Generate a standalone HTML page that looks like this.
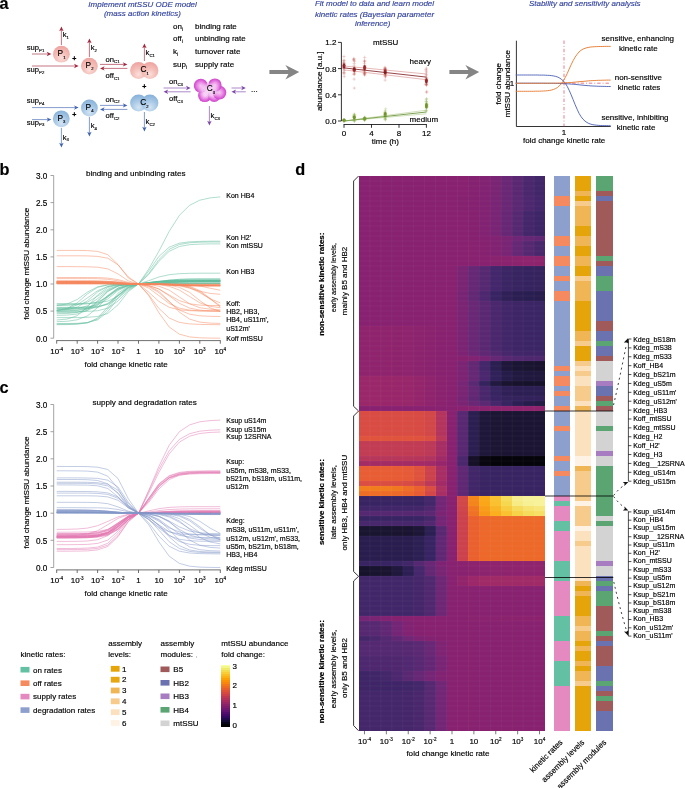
<!DOCTYPE html>
<html><head><meta charset="utf-8"><title>mtSSU kinetic model sensitivity</title>
<style>html,body{margin:0;padding:0;background:#fff}svg{display:block}svg text{font-family:"Liberation Sans",sans-serif;fill:#000;stroke:#000;stroke-width:.16px}</style>
</head><body>
<svg width="685" height="788" viewBox="0 0 685 788">
<rect width="685" height="788" fill="#fff"/>
<g shape-rendering="crispEdges">
<rect x="359" y="176" width="11.24" height="20" fill="#872170"/>
<rect x="369.94" y="176" width="11.24" height="20" fill="#872170"/>
<rect x="380.88" y="176" width="11.24" height="20" fill="#872170"/>
<rect x="391.82" y="176" width="11.24" height="20" fill="#872170"/>
<rect x="402.76" y="176" width="11.24" height="20" fill="#872170"/>
<rect x="413.71" y="176" width="11.24" height="20" fill="#872170"/>
<rect x="424.65" y="176" width="11.24" height="20" fill="#872170"/>
<rect x="435.59" y="176" width="11.24" height="20" fill="#872170"/>
<rect x="446.53" y="176" width="11.24" height="20" fill="#872170"/>
<rect x="457.47" y="176" width="11.24" height="20" fill="#872170"/>
<rect x="468.41" y="176" width="11.24" height="20" fill="#852171"/>
<rect x="479.35" y="176" width="11.24" height="20" fill="#822272"/>
<rect x="490.29" y="176" width="11.24" height="20" fill="#7a2474"/>
<rect x="501.24" y="176" width="11.24" height="20" fill="#6a2775"/>
<rect x="512.18" y="176" width="11.24" height="20" fill="#5a2873"/>
<rect x="523.12" y="176" width="11.24" height="20" fill="#4b276e"/>
<rect x="534.06" y="176" width="11.24" height="20" fill="#412669"/>
<rect x="359" y="196" width="11.24" height="15" fill="#872170"/>
<rect x="369.94" y="196" width="11.24" height="15" fill="#872170"/>
<rect x="380.88" y="196" width="11.24" height="15" fill="#872170"/>
<rect x="391.82" y="196" width="11.24" height="15" fill="#872170"/>
<rect x="402.76" y="196" width="11.24" height="15" fill="#872170"/>
<rect x="413.71" y="196" width="11.24" height="15" fill="#872170"/>
<rect x="424.65" y="196" width="11.24" height="15" fill="#872170"/>
<rect x="435.59" y="196" width="11.24" height="15" fill="#872170"/>
<rect x="446.53" y="196" width="11.24" height="15" fill="#872170"/>
<rect x="457.47" y="196" width="11.24" height="15" fill="#862170"/>
<rect x="468.41" y="196" width="11.24" height="15" fill="#852171"/>
<rect x="479.35" y="196" width="11.24" height="15" fill="#812272"/>
<rect x="490.29" y="196" width="11.24" height="15" fill="#792475"/>
<rect x="501.24" y="196" width="11.24" height="15" fill="#6a2775"/>
<rect x="512.18" y="196" width="11.24" height="15" fill="#5b2873"/>
<rect x="523.12" y="196" width="11.24" height="15" fill="#4d276f"/>
<rect x="534.06" y="196" width="11.24" height="15" fill="#43266b"/>
<rect x="359" y="211" width="11.24" height="25" fill="#872170"/>
<rect x="369.94" y="211" width="11.24" height="25" fill="#872170"/>
<rect x="380.88" y="211" width="11.24" height="25" fill="#872170"/>
<rect x="391.82" y="211" width="11.24" height="25" fill="#872170"/>
<rect x="402.76" y="211" width="11.24" height="25" fill="#872170"/>
<rect x="413.71" y="211" width="11.24" height="25" fill="#872170"/>
<rect x="424.65" y="211" width="11.24" height="25" fill="#872170"/>
<rect x="435.59" y="211" width="11.24" height="25" fill="#872170"/>
<rect x="446.53" y="211" width="11.24" height="25" fill="#872170"/>
<rect x="457.47" y="211" width="11.24" height="25" fill="#872170"/>
<rect x="468.41" y="211" width="11.24" height="25" fill="#862170"/>
<rect x="479.35" y="211" width="11.24" height="25" fill="#822272"/>
<rect x="490.29" y="211" width="11.24" height="25" fill="#792475"/>
<rect x="501.24" y="211" width="11.24" height="25" fill="#672775"/>
<rect x="512.18" y="211" width="11.24" height="25" fill="#562872"/>
<rect x="523.12" y="211" width="11.24" height="25" fill="#44266b"/>
<rect x="534.06" y="211" width="11.24" height="25" fill="#3e2567"/>
<rect x="359" y="236" width="11.24" height="5" fill="#872170"/>
<rect x="369.94" y="236" width="11.24" height="5" fill="#872170"/>
<rect x="380.88" y="236" width="11.24" height="5" fill="#872170"/>
<rect x="391.82" y="236" width="11.24" height="5" fill="#872170"/>
<rect x="402.76" y="236" width="11.24" height="5" fill="#872170"/>
<rect x="413.71" y="236" width="11.24" height="5" fill="#872170"/>
<rect x="424.65" y="236" width="11.24" height="5" fill="#872170"/>
<rect x="435.59" y="236" width="11.24" height="5" fill="#872170"/>
<rect x="446.53" y="236" width="11.24" height="5" fill="#872170"/>
<rect x="457.47" y="236" width="11.24" height="5" fill="#872170"/>
<rect x="468.41" y="236" width="11.24" height="5" fill="#862170"/>
<rect x="479.35" y="236" width="11.24" height="5" fill="#852171"/>
<rect x="490.29" y="236" width="11.24" height="5" fill="#812272"/>
<rect x="501.24" y="236" width="11.24" height="5" fill="#7a2474"/>
<rect x="512.18" y="236" width="11.24" height="5" fill="#6f2676"/>
<rect x="523.12" y="236" width="11.24" height="5" fill="#662775"/>
<rect x="534.06" y="236" width="11.24" height="5" fill="#612774"/>
<rect x="359" y="241" width="11.24" height="15" fill="#872170"/>
<rect x="369.94" y="241" width="11.24" height="15" fill="#872170"/>
<rect x="380.88" y="241" width="11.24" height="15" fill="#872170"/>
<rect x="391.82" y="241" width="11.24" height="15" fill="#872170"/>
<rect x="402.76" y="241" width="11.24" height="15" fill="#872170"/>
<rect x="413.71" y="241" width="11.24" height="15" fill="#872170"/>
<rect x="424.65" y="241" width="11.24" height="15" fill="#872170"/>
<rect x="435.59" y="241" width="11.24" height="15" fill="#872170"/>
<rect x="446.53" y="241" width="11.24" height="15" fill="#872170"/>
<rect x="457.47" y="241" width="11.24" height="15" fill="#872170"/>
<rect x="468.41" y="241" width="11.24" height="15" fill="#872170"/>
<rect x="479.35" y="241" width="11.24" height="15" fill="#862170"/>
<rect x="490.29" y="241" width="11.24" height="15" fill="#822272"/>
<rect x="501.24" y="241" width="11.24" height="15" fill="#792475"/>
<rect x="512.18" y="241" width="11.24" height="15" fill="#662775"/>
<rect x="523.12" y="241" width="11.24" height="15" fill="#572872"/>
<rect x="534.06" y="241" width="11.24" height="15" fill="#4a276d"/>
<rect x="359" y="256" width="11.24" height="10" fill="#872170"/>
<rect x="369.94" y="256" width="11.24" height="10" fill="#872170"/>
<rect x="380.88" y="256" width="11.24" height="10" fill="#872170"/>
<rect x="391.82" y="256" width="11.24" height="10" fill="#872170"/>
<rect x="402.76" y="256" width="11.24" height="10" fill="#872170"/>
<rect x="413.71" y="256" width="11.24" height="10" fill="#872170"/>
<rect x="424.65" y="256" width="11.24" height="10" fill="#872170"/>
<rect x="435.59" y="256" width="11.24" height="10" fill="#872170"/>
<rect x="446.53" y="256" width="11.24" height="10" fill="#872170"/>
<rect x="457.47" y="256" width="11.24" height="10" fill="#872170"/>
<rect x="468.41" y="256" width="11.24" height="10" fill="#872170"/>
<rect x="479.35" y="256" width="11.24" height="10" fill="#882170"/>
<rect x="490.29" y="256" width="11.24" height="10" fill="#89226f"/>
<rect x="501.24" y="256" width="11.24" height="10" fill="#8b226f"/>
<rect x="512.18" y="256" width="11.24" height="10" fill="#8d236e"/>
<rect x="523.12" y="256" width="11.24" height="10" fill="#8e236e"/>
<rect x="534.06" y="256" width="11.24" height="10" fill="#8e236d"/>
<rect x="359" y="266" width="11.24" height="25" fill="#872170"/>
<rect x="369.94" y="266" width="11.24" height="25" fill="#872170"/>
<rect x="380.88" y="266" width="11.24" height="25" fill="#872170"/>
<rect x="391.82" y="266" width="11.24" height="25" fill="#872170"/>
<rect x="402.76" y="266" width="11.24" height="25" fill="#872170"/>
<rect x="413.71" y="266" width="11.24" height="25" fill="#872170"/>
<rect x="424.65" y="266" width="11.24" height="25" fill="#872170"/>
<rect x="435.59" y="266" width="11.24" height="25" fill="#872170"/>
<rect x="446.53" y="266" width="11.24" height="25" fill="#872170"/>
<rect x="457.47" y="266" width="11.24" height="25" fill="#7a2474"/>
<rect x="468.41" y="266" width="11.24" height="25" fill="#662775"/>
<rect x="479.35" y="266" width="11.24" height="25" fill="#562872"/>
<rect x="490.29" y="266" width="11.24" height="25" fill="#43266b"/>
<rect x="501.24" y="266" width="11.24" height="25" fill="#3b2564"/>
<rect x="512.18" y="266" width="11.24" height="25" fill="#372461"/>
<rect x="523.12" y="266" width="11.24" height="25" fill="#35235f"/>
<rect x="534.06" y="266" width="11.24" height="25" fill="#35235e"/>
<rect x="359" y="291" width="11.24" height="10" fill="#872170"/>
<rect x="369.94" y="291" width="11.24" height="10" fill="#872170"/>
<rect x="380.88" y="291" width="11.24" height="10" fill="#872170"/>
<rect x="391.82" y="291" width="11.24" height="10" fill="#872170"/>
<rect x="402.76" y="291" width="11.24" height="10" fill="#872170"/>
<rect x="413.71" y="291" width="11.24" height="10" fill="#872170"/>
<rect x="424.65" y="291" width="11.24" height="10" fill="#872170"/>
<rect x="435.59" y="291" width="11.24" height="10" fill="#872170"/>
<rect x="446.53" y="291" width="11.24" height="10" fill="#872170"/>
<rect x="457.47" y="291" width="11.24" height="10" fill="#782475"/>
<rect x="468.41" y="291" width="11.24" height="10" fill="#632774"/>
<rect x="479.35" y="291" width="11.24" height="10" fill="#4d276f"/>
<rect x="490.29" y="291" width="11.24" height="10" fill="#392463"/>
<rect x="501.24" y="291" width="11.24" height="10" fill="#302058"/>
<rect x="512.18" y="291" width="11.24" height="10" fill="#2b1e52"/>
<rect x="523.12" y="291" width="11.24" height="10" fill="#291e50"/>
<rect x="534.06" y="291" width="11.24" height="10" fill="#291d4f"/>
<rect x="359" y="301" width="11.24" height="25" fill="#872170"/>
<rect x="369.94" y="301" width="11.24" height="25" fill="#872170"/>
<rect x="380.88" y="301" width="11.24" height="25" fill="#872170"/>
<rect x="391.82" y="301" width="11.24" height="25" fill="#872170"/>
<rect x="402.76" y="301" width="11.24" height="25" fill="#872170"/>
<rect x="413.71" y="301" width="11.24" height="25" fill="#872170"/>
<rect x="424.65" y="301" width="11.24" height="25" fill="#872170"/>
<rect x="435.59" y="301" width="11.24" height="25" fill="#872170"/>
<rect x="446.53" y="301" width="11.24" height="25" fill="#872170"/>
<rect x="457.47" y="301" width="11.24" height="25" fill="#7b2474"/>
<rect x="468.41" y="301" width="11.24" height="25" fill="#692775"/>
<rect x="479.35" y="301" width="11.24" height="25" fill="#5a2873"/>
<rect x="490.29" y="301" width="11.24" height="25" fill="#4b276e"/>
<rect x="501.24" y="301" width="11.24" height="25" fill="#412669"/>
<rect x="512.18" y="301" width="11.24" height="25" fill="#3e2566"/>
<rect x="523.12" y="301" width="11.24" height="25" fill="#3c2565"/>
<rect x="534.06" y="301" width="11.24" height="25" fill="#3b2565"/>
<rect x="359" y="326" width="11.24" height="25" fill="#8f236d"/>
<rect x="369.94" y="326" width="11.24" height="25" fill="#8f236d"/>
<rect x="380.88" y="326" width="11.24" height="25" fill="#8f236d"/>
<rect x="391.82" y="326" width="11.24" height="25" fill="#8e236d"/>
<rect x="402.76" y="326" width="11.24" height="25" fill="#8e236e"/>
<rect x="413.71" y="326" width="11.24" height="25" fill="#8c236e"/>
<rect x="424.65" y="326" width="11.24" height="25" fill="#8a226f"/>
<rect x="435.59" y="326" width="11.24" height="25" fill="#882170"/>
<rect x="446.53" y="326" width="11.24" height="25" fill="#872170"/>
<rect x="457.47" y="326" width="11.24" height="25" fill="#7b2474"/>
<rect x="468.41" y="326" width="11.24" height="25" fill="#692775"/>
<rect x="479.35" y="326" width="11.24" height="25" fill="#5a2873"/>
<rect x="490.29" y="326" width="11.24" height="25" fill="#4b276e"/>
<rect x="501.24" y="326" width="11.24" height="25" fill="#412669"/>
<rect x="512.18" y="326" width="11.24" height="25" fill="#3e2566"/>
<rect x="523.12" y="326" width="11.24" height="25" fill="#3c2565"/>
<rect x="534.06" y="326" width="11.24" height="25" fill="#3b2565"/>
<rect x="359" y="351" width="11.24" height="5" fill="#8f236d"/>
<rect x="369.94" y="351" width="11.24" height="5" fill="#8f236d"/>
<rect x="380.88" y="351" width="11.24" height="5" fill="#8f236d"/>
<rect x="391.82" y="351" width="11.24" height="5" fill="#8e236d"/>
<rect x="402.76" y="351" width="11.24" height="5" fill="#8e236e"/>
<rect x="413.71" y="351" width="11.24" height="5" fill="#8c236e"/>
<rect x="424.65" y="351" width="11.24" height="5" fill="#8a226f"/>
<rect x="435.59" y="351" width="11.24" height="5" fill="#882170"/>
<rect x="446.53" y="351" width="11.24" height="5" fill="#872170"/>
<rect x="457.47" y="351" width="11.24" height="5" fill="#7e2373"/>
<rect x="468.41" y="351" width="11.24" height="5" fill="#6f2676"/>
<rect x="479.35" y="351" width="11.24" height="5" fill="#602774"/>
<rect x="490.29" y="351" width="11.24" height="5" fill="#532871"/>
<rect x="501.24" y="351" width="11.24" height="5" fill="#48276d"/>
<rect x="512.18" y="351" width="11.24" height="5" fill="#42266a"/>
<rect x="523.12" y="351" width="11.24" height="5" fill="#402669"/>
<rect x="534.06" y="351" width="11.24" height="5" fill="#402668"/>
<rect x="359" y="356" width="11.24" height="5" fill="#8f236d"/>
<rect x="369.94" y="356" width="11.24" height="5" fill="#8f236d"/>
<rect x="380.88" y="356" width="11.24" height="5" fill="#8f236d"/>
<rect x="391.82" y="356" width="11.24" height="5" fill="#8e236d"/>
<rect x="402.76" y="356" width="11.24" height="5" fill="#8e236e"/>
<rect x="413.71" y="356" width="11.24" height="5" fill="#8c236e"/>
<rect x="424.65" y="356" width="11.24" height="5" fill="#8a226f"/>
<rect x="435.59" y="356" width="11.24" height="5" fill="#882170"/>
<rect x="446.53" y="356" width="11.24" height="5" fill="#872170"/>
<rect x="457.47" y="356" width="11.24" height="5" fill="#862170"/>
<rect x="468.41" y="356" width="11.24" height="5" fill="#822272"/>
<rect x="479.35" y="356" width="11.24" height="5" fill="#772475"/>
<rect x="490.29" y="356" width="11.24" height="5" fill="#662775"/>
<rect x="501.24" y="356" width="11.24" height="5" fill="#592873"/>
<rect x="512.18" y="356" width="11.24" height="5" fill="#522871"/>
<rect x="523.12" y="356" width="11.24" height="5" fill="#4f276f"/>
<rect x="534.06" y="356" width="11.24" height="5" fill="#4e276f"/>
<rect x="359" y="361" width="11.24" height="10" fill="#8f236d"/>
<rect x="369.94" y="361" width="11.24" height="10" fill="#8f236d"/>
<rect x="380.88" y="361" width="11.24" height="10" fill="#8f236d"/>
<rect x="391.82" y="361" width="11.24" height="10" fill="#8e236d"/>
<rect x="402.76" y="361" width="11.24" height="10" fill="#8e236e"/>
<rect x="413.71" y="361" width="11.24" height="10" fill="#8c236e"/>
<rect x="424.65" y="361" width="11.24" height="10" fill="#8a226f"/>
<rect x="435.59" y="361" width="11.24" height="10" fill="#882170"/>
<rect x="446.53" y="361" width="11.24" height="10" fill="#872170"/>
<rect x="457.47" y="361" width="11.24" height="10" fill="#7b2474"/>
<rect x="468.41" y="361" width="11.24" height="10" fill="#642774"/>
<rect x="479.35" y="361" width="11.24" height="10" fill="#44266b"/>
<rect x="490.29" y="361" width="11.24" height="10" fill="#2b1e51"/>
<rect x="501.24" y="361" width="11.24" height="10" fill="#1f173b"/>
<rect x="512.18" y="361" width="11.24" height="10" fill="#1a1532"/>
<rect x="523.12" y="361" width="11.24" height="10" fill="#191430"/>
<rect x="534.06" y="361" width="11.24" height="10" fill="#19132f"/>
<rect x="359" y="371" width="11.24" height="5" fill="#8f236d"/>
<rect x="369.94" y="371" width="11.24" height="5" fill="#8f236d"/>
<rect x="380.88" y="371" width="11.24" height="5" fill="#8f236d"/>
<rect x="391.82" y="371" width="11.24" height="5" fill="#8e236d"/>
<rect x="402.76" y="371" width="11.24" height="5" fill="#8e236e"/>
<rect x="413.71" y="371" width="11.24" height="5" fill="#8c236e"/>
<rect x="424.65" y="371" width="11.24" height="5" fill="#8a226f"/>
<rect x="435.59" y="371" width="11.24" height="5" fill="#882170"/>
<rect x="446.53" y="371" width="11.24" height="5" fill="#872170"/>
<rect x="457.47" y="371" width="11.24" height="5" fill="#7c2374"/>
<rect x="468.41" y="371" width="11.24" height="5" fill="#662775"/>
<rect x="479.35" y="371" width="11.24" height="5" fill="#4a276e"/>
<rect x="490.29" y="371" width="11.24" height="5" fill="#31215a"/>
<rect x="501.24" y="371" width="11.24" height="5" fill="#261c4a"/>
<rect x="512.18" y="371" width="11.24" height="5" fill="#221941"/>
<rect x="523.12" y="371" width="11.24" height="5" fill="#20183e"/>
<rect x="534.06" y="371" width="11.24" height="5" fill="#20183d"/>
<rect x="359" y="376" width="11.24" height="5" fill="#99276a"/>
<rect x="369.94" y="376" width="11.24" height="5" fill="#99276a"/>
<rect x="380.88" y="376" width="11.24" height="5" fill="#99266a"/>
<rect x="391.82" y="376" width="11.24" height="5" fill="#98266a"/>
<rect x="402.76" y="376" width="11.24" height="5" fill="#97266a"/>
<rect x="413.71" y="376" width="11.24" height="5" fill="#94256c"/>
<rect x="424.65" y="376" width="11.24" height="5" fill="#8f236d"/>
<rect x="435.59" y="376" width="11.24" height="5" fill="#8a226f"/>
<rect x="446.53" y="376" width="11.24" height="5" fill="#872170"/>
<rect x="457.47" y="376" width="11.24" height="5" fill="#7c2374"/>
<rect x="468.41" y="376" width="11.24" height="5" fill="#662775"/>
<rect x="479.35" y="376" width="11.24" height="5" fill="#4a276e"/>
<rect x="490.29" y="376" width="11.24" height="5" fill="#31215a"/>
<rect x="501.24" y="376" width="11.24" height="5" fill="#261c4a"/>
<rect x="512.18" y="376" width="11.24" height="5" fill="#221941"/>
<rect x="523.12" y="376" width="11.24" height="5" fill="#20183e"/>
<rect x="534.06" y="376" width="11.24" height="5" fill="#20183d"/>
<rect x="359" y="381" width="11.24" height="5" fill="#99276a"/>
<rect x="369.94" y="381" width="11.24" height="5" fill="#99276a"/>
<rect x="380.88" y="381" width="11.24" height="5" fill="#99266a"/>
<rect x="391.82" y="381" width="11.24" height="5" fill="#98266a"/>
<rect x="402.76" y="381" width="11.24" height="5" fill="#97266a"/>
<rect x="413.71" y="381" width="11.24" height="5" fill="#94256c"/>
<rect x="424.65" y="381" width="11.24" height="5" fill="#8f236d"/>
<rect x="435.59" y="381" width="11.24" height="5" fill="#8a226f"/>
<rect x="446.53" y="381" width="11.24" height="5" fill="#872170"/>
<rect x="457.47" y="381" width="11.24" height="5" fill="#772575"/>
<rect x="468.41" y="381" width="11.24" height="5" fill="#5b2873"/>
<rect x="479.35" y="381" width="11.24" height="5" fill="#35235e"/>
<rect x="490.29" y="381" width="11.24" height="5" fill="#21193f"/>
<rect x="501.24" y="381" width="11.24" height="5" fill="#1a1430"/>
<rect x="512.18" y="381" width="11.24" height="5" fill="#18122d"/>
<rect x="523.12" y="381" width="11.24" height="5" fill="#17122c"/>
<rect x="534.06" y="381" width="11.24" height="5" fill="#17122c"/>
<rect x="359" y="386" width="11.24" height="10" fill="#99276a"/>
<rect x="369.94" y="386" width="11.24" height="10" fill="#99276a"/>
<rect x="380.88" y="386" width="11.24" height="10" fill="#99266a"/>
<rect x="391.82" y="386" width="11.24" height="10" fill="#98266a"/>
<rect x="402.76" y="386" width="11.24" height="10" fill="#97266a"/>
<rect x="413.71" y="386" width="11.24" height="10" fill="#94256c"/>
<rect x="424.65" y="386" width="11.24" height="10" fill="#8f236d"/>
<rect x="435.59" y="386" width="11.24" height="10" fill="#8a226f"/>
<rect x="446.53" y="386" width="11.24" height="10" fill="#872170"/>
<rect x="457.47" y="386" width="11.24" height="10" fill="#7a2474"/>
<rect x="468.41" y="386" width="11.24" height="10" fill="#632774"/>
<rect x="479.35" y="386" width="11.24" height="10" fill="#4a276d"/>
<rect x="490.29" y="386" width="11.24" height="10" fill="#372461"/>
<rect x="501.24" y="386" width="11.24" height="10" fill="#302058"/>
<rect x="512.18" y="386" width="11.24" height="10" fill="#2d1f54"/>
<rect x="523.12" y="386" width="11.24" height="10" fill="#2c1f53"/>
<rect x="534.06" y="386" width="11.24" height="10" fill="#2c1f53"/>
<rect x="359" y="396" width="11.24" height="5" fill="#99276a"/>
<rect x="369.94" y="396" width="11.24" height="5" fill="#99276a"/>
<rect x="380.88" y="396" width="11.24" height="5" fill="#99266a"/>
<rect x="391.82" y="396" width="11.24" height="5" fill="#98266a"/>
<rect x="402.76" y="396" width="11.24" height="5" fill="#97266a"/>
<rect x="413.71" y="396" width="11.24" height="5" fill="#94256c"/>
<rect x="424.65" y="396" width="11.24" height="5" fill="#8f236d"/>
<rect x="435.59" y="396" width="11.24" height="5" fill="#8a226f"/>
<rect x="446.53" y="396" width="11.24" height="5" fill="#872170"/>
<rect x="457.47" y="396" width="11.24" height="5" fill="#772475"/>
<rect x="468.41" y="396" width="11.24" height="5" fill="#602774"/>
<rect x="479.35" y="396" width="11.24" height="5" fill="#49276d"/>
<rect x="490.29" y="396" width="11.24" height="5" fill="#3a2464"/>
<rect x="501.24" y="396" width="11.24" height="5" fill="#35235e"/>
<rect x="512.18" y="396" width="11.24" height="5" fill="#33225c"/>
<rect x="523.12" y="396" width="11.24" height="5" fill="#32215b"/>
<rect x="534.06" y="396" width="11.24" height="5" fill="#32215a"/>
<rect x="359" y="401" width="11.24" height="5" fill="#99276a"/>
<rect x="369.94" y="401" width="11.24" height="5" fill="#99276a"/>
<rect x="380.88" y="401" width="11.24" height="5" fill="#99266a"/>
<rect x="391.82" y="401" width="11.24" height="5" fill="#98266a"/>
<rect x="402.76" y="401" width="11.24" height="5" fill="#97266a"/>
<rect x="413.71" y="401" width="11.24" height="5" fill="#94256c"/>
<rect x="424.65" y="401" width="11.24" height="5" fill="#8f236d"/>
<rect x="435.59" y="401" width="11.24" height="5" fill="#8a226f"/>
<rect x="446.53" y="401" width="11.24" height="5" fill="#872170"/>
<rect x="457.47" y="401" width="11.24" height="5" fill="#7c2474"/>
<rect x="468.41" y="401" width="11.24" height="5" fill="#6b2675"/>
<rect x="479.35" y="401" width="11.24" height="5" fill="#5b2873"/>
<rect x="490.29" y="401" width="11.24" height="5" fill="#47276c"/>
<rect x="501.24" y="401" width="11.24" height="5" fill="#372461"/>
<rect x="512.18" y="401" width="11.24" height="5" fill="#2d1f55"/>
<rect x="523.12" y="401" width="11.24" height="5" fill="#271d4c"/>
<rect x="534.06" y="401" width="11.24" height="5" fill="#241b46"/>
<rect x="359" y="406" width="11.24" height="5" fill="#872170"/>
<rect x="369.94" y="406" width="11.24" height="5" fill="#872170"/>
<rect x="380.88" y="406" width="11.24" height="5" fill="#872170"/>
<rect x="391.82" y="406" width="11.24" height="5" fill="#872170"/>
<rect x="402.76" y="406" width="11.24" height="5" fill="#872170"/>
<rect x="413.71" y="406" width="11.24" height="5" fill="#872170"/>
<rect x="424.65" y="406" width="11.24" height="5" fill="#872170"/>
<rect x="435.59" y="406" width="11.24" height="5" fill="#872170"/>
<rect x="446.53" y="406" width="11.24" height="5" fill="#872170"/>
<rect x="457.47" y="406" width="11.24" height="5" fill="#882170"/>
<rect x="468.41" y="406" width="11.24" height="5" fill="#89226f"/>
<rect x="479.35" y="406" width="11.24" height="5" fill="#8b226f"/>
<rect x="490.29" y="406" width="11.24" height="5" fill="#8d236e"/>
<rect x="501.24" y="406" width="11.24" height="5" fill="#8e236e"/>
<rect x="512.18" y="406" width="11.24" height="5" fill="#8e236d"/>
<rect x="523.12" y="406" width="11.24" height="5" fill="#8f236d"/>
<rect x="534.06" y="406" width="11.24" height="5" fill="#8f236d"/>
<rect x="359" y="411" width="11.24" height="25" fill="#d94c44"/>
<rect x="369.94" y="411" width="11.24" height="25" fill="#d94c44"/>
<rect x="380.88" y="411" width="11.24" height="25" fill="#d94c44"/>
<rect x="391.82" y="411" width="11.24" height="25" fill="#d94c44"/>
<rect x="402.76" y="411" width="11.24" height="25" fill="#d84c44"/>
<rect x="413.71" y="411" width="11.24" height="25" fill="#d84b44"/>
<rect x="424.65" y="411" width="11.24" height="25" fill="#d24748"/>
<rect x="435.59" y="411" width="11.24" height="25" fill="#b3355e"/>
<rect x="446.53" y="411" width="11.24" height="25" fill="#872170"/>
<rect x="457.47" y="411" width="11.24" height="25" fill="#582872"/>
<rect x="468.41" y="411" width="11.24" height="25" fill="#2b1f52"/>
<rect x="479.35" y="411" width="11.24" height="25" fill="#1f173a"/>
<rect x="490.29" y="411" width="11.24" height="25" fill="#1c1534"/>
<rect x="501.24" y="411" width="11.24" height="25" fill="#1b1533"/>
<rect x="512.18" y="411" width="11.24" height="25" fill="#1b1533"/>
<rect x="523.12" y="411" width="11.24" height="25" fill="#1b1533"/>
<rect x="534.06" y="411" width="11.24" height="25" fill="#1b1533"/>
<rect x="359" y="436" width="11.24" height="5" fill="#e0543d"/>
<rect x="369.94" y="436" width="11.24" height="5" fill="#e0543d"/>
<rect x="380.88" y="436" width="11.24" height="5" fill="#e0543d"/>
<rect x="391.82" y="436" width="11.24" height="5" fill="#e0543d"/>
<rect x="402.76" y="436" width="11.24" height="5" fill="#e0533d"/>
<rect x="413.71" y="436" width="11.24" height="5" fill="#df533e"/>
<rect x="424.65" y="436" width="11.24" height="5" fill="#db4e42"/>
<rect x="435.59" y="436" width="11.24" height="5" fill="#ba3859"/>
<rect x="446.53" y="436" width="11.24" height="5" fill="#872170"/>
<rect x="457.47" y="436" width="11.24" height="5" fill="#582872"/>
<rect x="468.41" y="436" width="11.24" height="5" fill="#2b1f52"/>
<rect x="479.35" y="436" width="11.24" height="5" fill="#1f173a"/>
<rect x="490.29" y="436" width="11.24" height="5" fill="#1c1534"/>
<rect x="501.24" y="436" width="11.24" height="5" fill="#1b1533"/>
<rect x="512.18" y="436" width="11.24" height="5" fill="#1b1533"/>
<rect x="523.12" y="436" width="11.24" height="5" fill="#1b1533"/>
<rect x="534.06" y="436" width="11.24" height="5" fill="#1b1533"/>
<rect x="359" y="441" width="11.24" height="15" fill="#c23c53"/>
<rect x="369.94" y="441" width="11.24" height="15" fill="#c23c53"/>
<rect x="380.88" y="441" width="11.24" height="15" fill="#c23c53"/>
<rect x="391.82" y="441" width="11.24" height="15" fill="#c23c53"/>
<rect x="402.76" y="441" width="11.24" height="15" fill="#c13c53"/>
<rect x="413.71" y="441" width="11.24" height="15" fill="#c13b54"/>
<rect x="424.65" y="441" width="11.24" height="15" fill="#bc3957"/>
<rect x="435.59" y="441" width="11.24" height="15" fill="#a72e64"/>
<rect x="446.53" y="441" width="11.24" height="15" fill="#872170"/>
<rect x="457.47" y="441" width="11.24" height="15" fill="#582872"/>
<rect x="468.41" y="441" width="11.24" height="15" fill="#2b1f52"/>
<rect x="479.35" y="441" width="11.24" height="15" fill="#1f173a"/>
<rect x="490.29" y="441" width="11.24" height="15" fill="#1c1534"/>
<rect x="501.24" y="441" width="11.24" height="15" fill="#1b1533"/>
<rect x="512.18" y="441" width="11.24" height="15" fill="#1b1533"/>
<rect x="523.12" y="441" width="11.24" height="15" fill="#1b1533"/>
<rect x="534.06" y="441" width="11.24" height="15" fill="#1b1533"/>
<rect x="359" y="456" width="11.24" height="5" fill="#b7375b"/>
<rect x="369.94" y="456" width="11.24" height="5" fill="#b7375b"/>
<rect x="380.88" y="456" width="11.24" height="5" fill="#b7375b"/>
<rect x="391.82" y="456" width="11.24" height="5" fill="#b7375b"/>
<rect x="402.76" y="456" width="11.24" height="5" fill="#b7375b"/>
<rect x="413.71" y="456" width="11.24" height="5" fill="#b6365b"/>
<rect x="424.65" y="456" width="11.24" height="5" fill="#b1345f"/>
<rect x="435.59" y="456" width="11.24" height="5" fill="#a02967"/>
<rect x="446.53" y="456" width="11.24" height="5" fill="#872170"/>
<rect x="457.47" y="456" width="11.24" height="5" fill="#4b276e"/>
<rect x="468.41" y="456" width="11.24" height="5" fill="#161129"/>
<rect x="479.35" y="456" width="11.24" height="5" fill="#090610"/>
<rect x="490.29" y="456" width="11.24" height="5" fill="#06040b"/>
<rect x="501.24" y="456" width="11.24" height="5" fill="#05040b"/>
<rect x="512.18" y="456" width="11.24" height="5" fill="#05040b"/>
<rect x="523.12" y="456" width="11.24" height="5" fill="#05040b"/>
<rect x="534.06" y="456" width="11.24" height="5" fill="#05040b"/>
<rect x="359" y="461" width="11.24" height="5" fill="#a42c65"/>
<rect x="369.94" y="461" width="11.24" height="5" fill="#a42c65"/>
<rect x="380.88" y="461" width="11.24" height="5" fill="#a42c65"/>
<rect x="391.82" y="461" width="11.24" height="5" fill="#a42c65"/>
<rect x="402.76" y="461" width="11.24" height="5" fill="#a42c65"/>
<rect x="413.71" y="461" width="11.24" height="5" fill="#a42b66"/>
<rect x="424.65" y="461" width="11.24" height="5" fill="#a12a67"/>
<rect x="435.59" y="461" width="11.24" height="5" fill="#96256b"/>
<rect x="446.53" y="461" width="11.24" height="5" fill="#872170"/>
<rect x="457.47" y="461" width="11.24" height="5" fill="#4b276e"/>
<rect x="468.41" y="461" width="11.24" height="5" fill="#161129"/>
<rect x="479.35" y="461" width="11.24" height="5" fill="#090610"/>
<rect x="490.29" y="461" width="11.24" height="5" fill="#06040b"/>
<rect x="501.24" y="461" width="11.24" height="5" fill="#05040b"/>
<rect x="512.18" y="461" width="11.24" height="5" fill="#05040b"/>
<rect x="523.12" y="461" width="11.24" height="5" fill="#05040b"/>
<rect x="534.06" y="461" width="11.24" height="5" fill="#05040b"/>
<rect x="359" y="466" width="11.24" height="15" fill="#e85d34"/>
<rect x="369.94" y="466" width="11.24" height="15" fill="#e85d34"/>
<rect x="380.88" y="466" width="11.24" height="15" fill="#e85d34"/>
<rect x="391.82" y="466" width="11.24" height="15" fill="#e75c35"/>
<rect x="402.76" y="466" width="11.24" height="15" fill="#e65a38"/>
<rect x="413.71" y="466" width="11.24" height="15" fill="#df533e"/>
<rect x="424.65" y="466" width="11.24" height="15" fill="#cb424d"/>
<rect x="435.59" y="466" width="11.24" height="15" fill="#a72d64"/>
<rect x="446.53" y="466" width="11.24" height="15" fill="#872170"/>
<rect x="457.47" y="466" width="11.24" height="15" fill="#5f2774"/>
<rect x="468.41" y="466" width="11.24" height="15" fill="#412669"/>
<rect x="479.35" y="466" width="11.24" height="15" fill="#3a2463"/>
<rect x="490.29" y="466" width="11.24" height="15" fill="#382462"/>
<rect x="501.24" y="466" width="11.24" height="15" fill="#382462"/>
<rect x="512.18" y="466" width="11.24" height="15" fill="#382462"/>
<rect x="523.12" y="466" width="11.24" height="15" fill="#382462"/>
<rect x="534.06" y="466" width="11.24" height="15" fill="#382462"/>
<rect x="359" y="481" width="11.24" height="5" fill="#db4e42"/>
<rect x="369.94" y="481" width="11.24" height="5" fill="#db4e42"/>
<rect x="380.88" y="481" width="11.24" height="5" fill="#da4e42"/>
<rect x="391.82" y="481" width="11.24" height="5" fill="#d94d43"/>
<rect x="402.76" y="481" width="11.24" height="5" fill="#d74b45"/>
<rect x="413.71" y="481" width="11.24" height="5" fill="#cf454a"/>
<rect x="424.65" y="481" width="11.24" height="5" fill="#bc3958"/>
<rect x="435.59" y="481" width="11.24" height="5" fill="#a12a67"/>
<rect x="446.53" y="481" width="11.24" height="5" fill="#872170"/>
<rect x="457.47" y="481" width="11.24" height="5" fill="#5f2774"/>
<rect x="468.41" y="481" width="11.24" height="5" fill="#412669"/>
<rect x="479.35" y="481" width="11.24" height="5" fill="#3a2463"/>
<rect x="490.29" y="481" width="11.24" height="5" fill="#382462"/>
<rect x="501.24" y="481" width="11.24" height="5" fill="#382462"/>
<rect x="512.18" y="481" width="11.24" height="5" fill="#382462"/>
<rect x="523.12" y="481" width="11.24" height="5" fill="#382462"/>
<rect x="534.06" y="481" width="11.24" height="5" fill="#382462"/>
<rect x="359" y="486" width="11.24" height="5" fill="#f37e1e"/>
<rect x="369.94" y="486" width="11.24" height="5" fill="#f27d1e"/>
<rect x="380.88" y="486" width="11.24" height="5" fill="#f27c1f"/>
<rect x="391.82" y="486" width="11.24" height="5" fill="#f17821"/>
<rect x="402.76" y="486" width="11.24" height="5" fill="#ee6d27"/>
<rect x="413.71" y="486" width="11.24" height="5" fill="#ea602f"/>
<rect x="424.65" y="486" width="11.24" height="5" fill="#d94d43"/>
<rect x="435.59" y="486" width="11.24" height="5" fill="#ac3162"/>
<rect x="446.53" y="486" width="11.24" height="5" fill="#872170"/>
<rect x="457.47" y="486" width="11.24" height="5" fill="#5f2774"/>
<rect x="468.41" y="486" width="11.24" height="5" fill="#412669"/>
<rect x="479.35" y="486" width="11.24" height="5" fill="#3a2463"/>
<rect x="490.29" y="486" width="11.24" height="5" fill="#382462"/>
<rect x="501.24" y="486" width="11.24" height="5" fill="#382462"/>
<rect x="512.18" y="486" width="11.24" height="5" fill="#382462"/>
<rect x="523.12" y="486" width="11.24" height="5" fill="#382462"/>
<rect x="534.06" y="486" width="11.24" height="5" fill="#382462"/>
<rect x="359" y="491" width="11.24" height="5" fill="#ee6e26"/>
<rect x="369.94" y="491" width="11.24" height="5" fill="#ee6e27"/>
<rect x="380.88" y="491" width="11.24" height="5" fill="#ee6c27"/>
<rect x="391.82" y="491" width="11.24" height="5" fill="#ed6929"/>
<rect x="402.76" y="491" width="11.24" height="5" fill="#ec652c"/>
<rect x="413.71" y="491" width="11.24" height="5" fill="#e75c35"/>
<rect x="424.65" y="491" width="11.24" height="5" fill="#d24748"/>
<rect x="435.59" y="491" width="11.24" height="5" fill="#a82e63"/>
<rect x="446.53" y="491" width="11.24" height="5" fill="#872170"/>
<rect x="457.47" y="491" width="11.24" height="5" fill="#5f2774"/>
<rect x="468.41" y="491" width="11.24" height="5" fill="#412669"/>
<rect x="479.35" y="491" width="11.24" height="5" fill="#3a2463"/>
<rect x="490.29" y="491" width="11.24" height="5" fill="#382462"/>
<rect x="501.24" y="491" width="11.24" height="5" fill="#382462"/>
<rect x="512.18" y="491" width="11.24" height="5" fill="#382462"/>
<rect x="523.12" y="491" width="11.24" height="5" fill="#382462"/>
<rect x="534.06" y="491" width="11.24" height="5" fill="#382462"/>
<rect x="359" y="496" width="11.24" height="5" fill="#382462"/>
<rect x="369.94" y="496" width="11.24" height="5" fill="#382462"/>
<rect x="380.88" y="496" width="11.24" height="5" fill="#382462"/>
<rect x="391.82" y="496" width="11.24" height="5" fill="#382462"/>
<rect x="402.76" y="496" width="11.24" height="5" fill="#382462"/>
<rect x="413.71" y="496" width="11.24" height="5" fill="#392463"/>
<rect x="424.65" y="496" width="11.24" height="5" fill="#44266b"/>
<rect x="435.59" y="496" width="11.24" height="5" fill="#732576"/>
<rect x="446.53" y="496" width="11.24" height="5" fill="#872170"/>
<rect x="457.47" y="496" width="11.24" height="5" fill="#d24748"/>
<rect x="468.41" y="496" width="11.24" height="5" fill="#f5861b"/>
<rect x="479.35" y="496" width="11.24" height="5" fill="#fba818"/>
<rect x="490.29" y="496" width="11.24" height="5" fill="#fac231"/>
<rect x="501.24" y="496" width="11.24" height="5" fill="#f6dc5b"/>
<rect x="512.18" y="496" width="11.24" height="5" fill="#f8ee8f"/>
<rect x="523.12" y="496" width="11.24" height="5" fill="#f8f29a"/>
<rect x="534.06" y="496" width="11.24" height="5" fill="#f8f29a"/>
<rect x="359" y="501" width="11.24" height="5" fill="#382462"/>
<rect x="369.94" y="501" width="11.24" height="5" fill="#382462"/>
<rect x="380.88" y="501" width="11.24" height="5" fill="#382462"/>
<rect x="391.82" y="501" width="11.24" height="5" fill="#382462"/>
<rect x="402.76" y="501" width="11.24" height="5" fill="#382462"/>
<rect x="413.71" y="501" width="11.24" height="5" fill="#392463"/>
<rect x="424.65" y="501" width="11.24" height="5" fill="#44266b"/>
<rect x="435.59" y="501" width="11.24" height="5" fill="#732576"/>
<rect x="446.53" y="501" width="11.24" height="5" fill="#872170"/>
<rect x="457.47" y="501" width="11.24" height="5" fill="#d24748"/>
<rect x="468.41" y="501" width="11.24" height="5" fill="#f4841b"/>
<rect x="479.35" y="501" width="11.24" height="5" fill="#fba618"/>
<rect x="490.29" y="501" width="11.24" height="5" fill="#fac02e"/>
<rect x="501.24" y="501" width="11.24" height="5" fill="#f6d850"/>
<rect x="512.18" y="501" width="11.24" height="5" fill="#f7eb85"/>
<rect x="523.12" y="501" width="11.24" height="5" fill="#f8f095"/>
<rect x="534.06" y="501" width="11.24" height="5" fill="#f8f29a"/>
<rect x="359" y="506" width="11.24" height="5" fill="#42266a"/>
<rect x="369.94" y="506" width="11.24" height="5" fill="#42266a"/>
<rect x="380.88" y="506" width="11.24" height="5" fill="#42266a"/>
<rect x="391.82" y="506" width="11.24" height="5" fill="#42266a"/>
<rect x="402.76" y="506" width="11.24" height="5" fill="#42266a"/>
<rect x="413.71" y="506" width="11.24" height="5" fill="#43266a"/>
<rect x="424.65" y="506" width="11.24" height="5" fill="#4f276f"/>
<rect x="435.59" y="506" width="11.24" height="5" fill="#762576"/>
<rect x="446.53" y="506" width="11.24" height="5" fill="#872170"/>
<rect x="457.47" y="506" width="11.24" height="5" fill="#cf454a"/>
<rect x="468.41" y="506" width="11.24" height="5" fill="#f17622"/>
<rect x="479.35" y="506" width="11.24" height="5" fill="#f99d19"/>
<rect x="490.29" y="506" width="11.24" height="5" fill="#fab524"/>
<rect x="501.24" y="506" width="11.24" height="5" fill="#f8cc3f"/>
<rect x="512.18" y="506" width="11.24" height="5" fill="#f6dc5b"/>
<rect x="523.12" y="506" width="11.24" height="5" fill="#f7e370"/>
<rect x="534.06" y="506" width="11.24" height="5" fill="#f7e77a"/>
<rect x="359" y="511" width="11.24" height="5" fill="#562872"/>
<rect x="369.94" y="511" width="11.24" height="5" fill="#562872"/>
<rect x="380.88" y="511" width="11.24" height="5" fill="#562872"/>
<rect x="391.82" y="511" width="11.24" height="5" fill="#562872"/>
<rect x="402.76" y="511" width="11.24" height="5" fill="#562872"/>
<rect x="413.71" y="511" width="11.24" height="5" fill="#572872"/>
<rect x="424.65" y="511" width="11.24" height="5" fill="#5d2873"/>
<rect x="435.59" y="511" width="11.24" height="5" fill="#7b2474"/>
<rect x="446.53" y="511" width="11.24" height="5" fill="#872170"/>
<rect x="457.47" y="511" width="11.24" height="5" fill="#cc434c"/>
<rect x="468.41" y="511" width="11.24" height="5" fill="#ef7125"/>
<rect x="479.35" y="511" width="11.24" height="5" fill="#f89819"/>
<rect x="490.29" y="511" width="11.24" height="5" fill="#fbae1e"/>
<rect x="501.24" y="511" width="11.24" height="5" fill="#fac231"/>
<rect x="512.18" y="511" width="11.24" height="5" fill="#f7d349"/>
<rect x="523.12" y="511" width="11.24" height="5" fill="#f6dc5b"/>
<rect x="534.06" y="511" width="11.24" height="5" fill="#f7df65"/>
<rect x="359" y="516" width="11.24" height="5" fill="#392463"/>
<rect x="369.94" y="516" width="11.24" height="5" fill="#392463"/>
<rect x="380.88" y="516" width="11.24" height="5" fill="#392463"/>
<rect x="391.82" y="516" width="11.24" height="5" fill="#392463"/>
<rect x="402.76" y="516" width="11.24" height="5" fill="#392463"/>
<rect x="413.71" y="516" width="11.24" height="5" fill="#3a2464"/>
<rect x="424.65" y="516" width="11.24" height="5" fill="#45266b"/>
<rect x="435.59" y="516" width="11.24" height="5" fill="#732576"/>
<rect x="446.53" y="516" width="11.24" height="5" fill="#872170"/>
<rect x="457.47" y="516" width="11.24" height="5" fill="#cb424d"/>
<rect x="468.41" y="516" width="11.24" height="5" fill="#ea602f"/>
<rect x="479.35" y="516" width="11.24" height="5" fill="#ed682a"/>
<rect x="490.29" y="516" width="11.24" height="5" fill="#ed6929"/>
<rect x="501.24" y="516" width="11.24" height="5" fill="#ed6929"/>
<rect x="512.18" y="516" width="11.24" height="5" fill="#ed6929"/>
<rect x="523.12" y="516" width="11.24" height="5" fill="#ed6929"/>
<rect x="534.06" y="516" width="11.24" height="5" fill="#ed6929"/>
<rect x="359" y="521" width="11.24" height="5" fill="#48276c"/>
<rect x="369.94" y="521" width="11.24" height="5" fill="#48276c"/>
<rect x="380.88" y="521" width="11.24" height="5" fill="#48276c"/>
<rect x="391.82" y="521" width="11.24" height="5" fill="#48276c"/>
<rect x="402.76" y="521" width="11.24" height="5" fill="#48276c"/>
<rect x="413.71" y="521" width="11.24" height="5" fill="#48276d"/>
<rect x="424.65" y="521" width="11.24" height="5" fill="#532871"/>
<rect x="435.59" y="521" width="11.24" height="5" fill="#772575"/>
<rect x="446.53" y="521" width="11.24" height="5" fill="#872170"/>
<rect x="457.47" y="521" width="11.24" height="5" fill="#cb424d"/>
<rect x="468.41" y="521" width="11.24" height="5" fill="#ea602f"/>
<rect x="479.35" y="521" width="11.24" height="5" fill="#ed682a"/>
<rect x="490.29" y="521" width="11.24" height="5" fill="#ed6929"/>
<rect x="501.24" y="521" width="11.24" height="5" fill="#ed6929"/>
<rect x="512.18" y="521" width="11.24" height="5" fill="#ed6929"/>
<rect x="523.12" y="521" width="11.24" height="5" fill="#ed6929"/>
<rect x="534.06" y="521" width="11.24" height="5" fill="#ed6929"/>
<rect x="359" y="526" width="11.24" height="10" fill="#191430"/>
<rect x="369.94" y="526" width="11.24" height="10" fill="#191430"/>
<rect x="380.88" y="526" width="11.24" height="10" fill="#191430"/>
<rect x="391.82" y="526" width="11.24" height="10" fill="#1a1430"/>
<rect x="402.76" y="526" width="11.24" height="10" fill="#1a1431"/>
<rect x="413.71" y="526" width="11.24" height="10" fill="#1d1637"/>
<rect x="424.65" y="526" width="11.24" height="10" fill="#2c1f53"/>
<rect x="435.59" y="526" width="11.24" height="10" fill="#5a2873"/>
<rect x="446.53" y="526" width="11.24" height="10" fill="#872170"/>
<rect x="457.47" y="526" width="11.24" height="10" fill="#cb424d"/>
<rect x="468.41" y="526" width="11.24" height="10" fill="#ea602f"/>
<rect x="479.35" y="526" width="11.24" height="10" fill="#ed682a"/>
<rect x="490.29" y="526" width="11.24" height="10" fill="#ed6929"/>
<rect x="501.24" y="526" width="11.24" height="10" fill="#ed6929"/>
<rect x="512.18" y="526" width="11.24" height="10" fill="#ed6929"/>
<rect x="523.12" y="526" width="11.24" height="10" fill="#ed6929"/>
<rect x="534.06" y="526" width="11.24" height="10" fill="#ed6929"/>
<rect x="359" y="536" width="11.24" height="25" fill="#281d4e"/>
<rect x="369.94" y="536" width="11.24" height="25" fill="#281d4e"/>
<rect x="380.88" y="536" width="11.24" height="25" fill="#281d4e"/>
<rect x="391.82" y="536" width="11.24" height="25" fill="#281d4e"/>
<rect x="402.76" y="536" width="11.24" height="25" fill="#291d4f"/>
<rect x="413.71" y="536" width="11.24" height="25" fill="#2c1f53"/>
<rect x="424.65" y="536" width="11.24" height="25" fill="#392463"/>
<rect x="435.59" y="536" width="11.24" height="25" fill="#612774"/>
<rect x="446.53" y="536" width="11.24" height="25" fill="#872170"/>
<rect x="457.47" y="536" width="11.24" height="25" fill="#cb424d"/>
<rect x="468.41" y="536" width="11.24" height="25" fill="#ea602f"/>
<rect x="479.35" y="536" width="11.24" height="25" fill="#ed682a"/>
<rect x="490.29" y="536" width="11.24" height="25" fill="#ed6929"/>
<rect x="501.24" y="536" width="11.24" height="25" fill="#ed6929"/>
<rect x="512.18" y="536" width="11.24" height="25" fill="#ed6929"/>
<rect x="523.12" y="536" width="11.24" height="25" fill="#ed6929"/>
<rect x="534.06" y="536" width="11.24" height="25" fill="#ed6929"/>
<rect x="359" y="561" width="11.24" height="5" fill="#382462"/>
<rect x="369.94" y="561" width="11.24" height="5" fill="#382462"/>
<rect x="380.88" y="561" width="11.24" height="5" fill="#392463"/>
<rect x="391.82" y="561" width="11.24" height="5" fill="#3b2565"/>
<rect x="402.76" y="561" width="11.24" height="5" fill="#42266a"/>
<rect x="413.71" y="561" width="11.24" height="5" fill="#562872"/>
<rect x="424.65" y="561" width="11.24" height="5" fill="#6a2775"/>
<rect x="435.59" y="561" width="11.24" height="5" fill="#7e2373"/>
<rect x="446.53" y="561" width="11.24" height="5" fill="#872170"/>
<rect x="457.47" y="561" width="11.24" height="5" fill="#8a226f"/>
<rect x="468.41" y="561" width="11.24" height="5" fill="#8d236e"/>
<rect x="479.35" y="561" width="11.24" height="5" fill="#8e236d"/>
<rect x="490.29" y="561" width="11.24" height="5" fill="#8f236d"/>
<rect x="501.24" y="561" width="11.24" height="5" fill="#8f236d"/>
<rect x="512.18" y="561" width="11.24" height="5" fill="#8f236d"/>
<rect x="523.12" y="561" width="11.24" height="5" fill="#8f236d"/>
<rect x="534.06" y="561" width="11.24" height="5" fill="#8f236d"/>
<rect x="359" y="566" width="11.24" height="10" fill="#17122c"/>
<rect x="369.94" y="566" width="11.24" height="10" fill="#18132e"/>
<rect x="380.88" y="566" width="11.24" height="10" fill="#1a1431"/>
<rect x="391.82" y="566" width="11.24" height="10" fill="#20183d"/>
<rect x="402.76" y="566" width="11.24" height="10" fill="#2d1f54"/>
<rect x="413.71" y="566" width="11.24" height="10" fill="#46266c"/>
<rect x="424.65" y="566" width="11.24" height="10" fill="#642774"/>
<rect x="435.59" y="566" width="11.24" height="10" fill="#7a2474"/>
<rect x="446.53" y="566" width="11.24" height="10" fill="#872170"/>
<rect x="457.47" y="566" width="11.24" height="10" fill="#882170"/>
<rect x="468.41" y="566" width="11.24" height="10" fill="#8a226f"/>
<rect x="479.35" y="566" width="11.24" height="10" fill="#8c236e"/>
<rect x="490.29" y="566" width="11.24" height="10" fill="#8e236e"/>
<rect x="501.24" y="566" width="11.24" height="10" fill="#8e236d"/>
<rect x="512.18" y="566" width="11.24" height="10" fill="#8f236d"/>
<rect x="523.12" y="566" width="11.24" height="10" fill="#8f236d"/>
<rect x="534.06" y="566" width="11.24" height="10" fill="#8f236d"/>
<rect x="359" y="576" width="11.24" height="10" fill="#42266a"/>
<rect x="369.94" y="576" width="11.24" height="10" fill="#42266a"/>
<rect x="380.88" y="576" width="11.24" height="10" fill="#42266a"/>
<rect x="391.82" y="576" width="11.24" height="10" fill="#42266a"/>
<rect x="402.76" y="576" width="11.24" height="10" fill="#42266a"/>
<rect x="413.71" y="576" width="11.24" height="10" fill="#45266b"/>
<rect x="424.65" y="576" width="11.24" height="10" fill="#512870"/>
<rect x="435.59" y="576" width="11.24" height="10" fill="#6e2675"/>
<rect x="446.53" y="576" width="11.24" height="10" fill="#872170"/>
<rect x="457.47" y="576" width="11.24" height="10" fill="#92246c"/>
<rect x="468.41" y="576" width="11.24" height="10" fill="#9c2769"/>
<rect x="479.35" y="576" width="11.24" height="10" fill="#a02967"/>
<rect x="490.29" y="576" width="11.24" height="10" fill="#a02967"/>
<rect x="501.24" y="576" width="11.24" height="10" fill="#a02967"/>
<rect x="512.18" y="576" width="11.24" height="10" fill="#a02967"/>
<rect x="523.12" y="576" width="11.24" height="10" fill="#a02967"/>
<rect x="534.06" y="576" width="11.24" height="10" fill="#a02967"/>
<rect x="359" y="586" width="11.24" height="30" fill="#42266a"/>
<rect x="369.94" y="586" width="11.24" height="30" fill="#42266a"/>
<rect x="380.88" y="586" width="11.24" height="30" fill="#42266a"/>
<rect x="391.82" y="586" width="11.24" height="30" fill="#42266a"/>
<rect x="402.76" y="586" width="11.24" height="30" fill="#42266a"/>
<rect x="413.71" y="586" width="11.24" height="30" fill="#45266b"/>
<rect x="424.65" y="586" width="11.24" height="30" fill="#512870"/>
<rect x="435.59" y="586" width="11.24" height="30" fill="#6e2675"/>
<rect x="446.53" y="586" width="11.24" height="30" fill="#872170"/>
<rect x="457.47" y="586" width="11.24" height="30" fill="#872170"/>
<rect x="468.41" y="586" width="11.24" height="30" fill="#872170"/>
<rect x="479.35" y="586" width="11.24" height="30" fill="#872170"/>
<rect x="490.29" y="586" width="11.24" height="30" fill="#872170"/>
<rect x="501.24" y="586" width="11.24" height="30" fill="#872170"/>
<rect x="512.18" y="586" width="11.24" height="30" fill="#872170"/>
<rect x="523.12" y="586" width="11.24" height="30" fill="#872170"/>
<rect x="534.06" y="586" width="11.24" height="30" fill="#872170"/>
<rect x="359" y="616" width="11.24" height="5" fill="#762576"/>
<rect x="369.94" y="616" width="11.24" height="5" fill="#7a2474"/>
<rect x="380.88" y="616" width="11.24" height="5" fill="#822272"/>
<rect x="391.82" y="616" width="11.24" height="5" fill="#862170"/>
<rect x="402.76" y="616" width="11.24" height="5" fill="#872170"/>
<rect x="413.71" y="616" width="11.24" height="5" fill="#872170"/>
<rect x="424.65" y="616" width="11.24" height="5" fill="#872170"/>
<rect x="435.59" y="616" width="11.24" height="5" fill="#872170"/>
<rect x="446.53" y="616" width="11.24" height="5" fill="#872170"/>
<rect x="457.47" y="616" width="11.24" height="5" fill="#882170"/>
<rect x="468.41" y="616" width="11.24" height="5" fill="#89226f"/>
<rect x="479.35" y="616" width="11.24" height="5" fill="#8a226f"/>
<rect x="490.29" y="616" width="11.24" height="5" fill="#8b226f"/>
<rect x="501.24" y="616" width="11.24" height="5" fill="#8b226e"/>
<rect x="512.18" y="616" width="11.24" height="5" fill="#8c226e"/>
<rect x="523.12" y="616" width="11.24" height="5" fill="#8c226e"/>
<rect x="534.06" y="616" width="11.24" height="5" fill="#8c226e"/>
<rect x="359" y="621" width="11.24" height="15" fill="#562872"/>
<rect x="369.94" y="621" width="11.24" height="15" fill="#582872"/>
<rect x="380.88" y="621" width="11.24" height="15" fill="#612774"/>
<rect x="391.82" y="621" width="11.24" height="15" fill="#742576"/>
<rect x="402.76" y="621" width="11.24" height="15" fill="#822272"/>
<rect x="413.71" y="621" width="11.24" height="15" fill="#862170"/>
<rect x="424.65" y="621" width="11.24" height="15" fill="#872170"/>
<rect x="435.59" y="621" width="11.24" height="15" fill="#872170"/>
<rect x="446.53" y="621" width="11.24" height="15" fill="#872170"/>
<rect x="457.47" y="621" width="11.24" height="15" fill="#872170"/>
<rect x="468.41" y="621" width="11.24" height="15" fill="#872170"/>
<rect x="479.35" y="621" width="11.24" height="15" fill="#872170"/>
<rect x="490.29" y="621" width="11.24" height="15" fill="#872170"/>
<rect x="501.24" y="621" width="11.24" height="15" fill="#872170"/>
<rect x="512.18" y="621" width="11.24" height="15" fill="#872170"/>
<rect x="523.12" y="621" width="11.24" height="15" fill="#872170"/>
<rect x="534.06" y="621" width="11.24" height="15" fill="#872170"/>
<rect x="359" y="636" width="11.24" height="5" fill="#45266b"/>
<rect x="369.94" y="636" width="11.24" height="5" fill="#4b276e"/>
<rect x="380.88" y="636" width="11.24" height="5" fill="#552872"/>
<rect x="391.82" y="636" width="11.24" height="5" fill="#622774"/>
<rect x="402.76" y="636" width="11.24" height="5" fill="#712676"/>
<rect x="413.71" y="636" width="11.24" height="5" fill="#7d2373"/>
<rect x="424.65" y="636" width="11.24" height="5" fill="#832271"/>
<rect x="435.59" y="636" width="11.24" height="5" fill="#862170"/>
<rect x="446.53" y="636" width="11.24" height="5" fill="#872170"/>
<rect x="457.47" y="636" width="11.24" height="5" fill="#872170"/>
<rect x="468.41" y="636" width="11.24" height="5" fill="#872170"/>
<rect x="479.35" y="636" width="11.24" height="5" fill="#872170"/>
<rect x="490.29" y="636" width="11.24" height="5" fill="#872170"/>
<rect x="501.24" y="636" width="11.24" height="5" fill="#872170"/>
<rect x="512.18" y="636" width="11.24" height="5" fill="#872170"/>
<rect x="523.12" y="636" width="11.24" height="5" fill="#872170"/>
<rect x="534.06" y="636" width="11.24" height="5" fill="#872170"/>
<rect x="359" y="641" width="11.24" height="15" fill="#552872"/>
<rect x="369.94" y="641" width="11.24" height="15" fill="#552872"/>
<rect x="380.88" y="641" width="11.24" height="15" fill="#552872"/>
<rect x="391.82" y="641" width="11.24" height="15" fill="#552872"/>
<rect x="402.76" y="641" width="11.24" height="15" fill="#562872"/>
<rect x="413.71" y="641" width="11.24" height="15" fill="#5b2873"/>
<rect x="424.65" y="641" width="11.24" height="15" fill="#6a2775"/>
<rect x="435.59" y="641" width="11.24" height="15" fill="#7f2373"/>
<rect x="446.53" y="641" width="11.24" height="15" fill="#872170"/>
<rect x="457.47" y="641" width="11.24" height="15" fill="#872170"/>
<rect x="468.41" y="641" width="11.24" height="15" fill="#872170"/>
<rect x="479.35" y="641" width="11.24" height="15" fill="#872170"/>
<rect x="490.29" y="641" width="11.24" height="15" fill="#872170"/>
<rect x="501.24" y="641" width="11.24" height="15" fill="#872170"/>
<rect x="512.18" y="641" width="11.24" height="15" fill="#872170"/>
<rect x="523.12" y="641" width="11.24" height="15" fill="#872170"/>
<rect x="534.06" y="641" width="11.24" height="15" fill="#872170"/>
<rect x="359" y="656" width="11.24" height="15" fill="#4d276f"/>
<rect x="369.94" y="656" width="11.24" height="15" fill="#4e276f"/>
<rect x="380.88" y="656" width="11.24" height="15" fill="#4e276f"/>
<rect x="391.82" y="656" width="11.24" height="15" fill="#4f276f"/>
<rect x="402.76" y="656" width="11.24" height="15" fill="#512871"/>
<rect x="413.71" y="656" width="11.24" height="15" fill="#582873"/>
<rect x="424.65" y="656" width="11.24" height="15" fill="#652775"/>
<rect x="435.59" y="656" width="11.24" height="15" fill="#792475"/>
<rect x="446.53" y="656" width="11.24" height="15" fill="#872170"/>
<rect x="457.47" y="656" width="11.24" height="15" fill="#872170"/>
<rect x="468.41" y="656" width="11.24" height="15" fill="#872170"/>
<rect x="479.35" y="656" width="11.24" height="15" fill="#872170"/>
<rect x="490.29" y="656" width="11.24" height="15" fill="#872170"/>
<rect x="501.24" y="656" width="11.24" height="15" fill="#872170"/>
<rect x="512.18" y="656" width="11.24" height="15" fill="#872170"/>
<rect x="523.12" y="656" width="11.24" height="15" fill="#872170"/>
<rect x="534.06" y="656" width="11.24" height="15" fill="#872170"/>
<rect x="359" y="671" width="11.24" height="10" fill="#3e2567"/>
<rect x="369.94" y="671" width="11.24" height="10" fill="#402668"/>
<rect x="380.88" y="671" width="11.24" height="10" fill="#44266b"/>
<rect x="391.82" y="671" width="11.24" height="10" fill="#4d276f"/>
<rect x="402.76" y="671" width="11.24" height="10" fill="#5a2873"/>
<rect x="413.71" y="671" width="11.24" height="10" fill="#672775"/>
<rect x="424.65" y="671" width="11.24" height="10" fill="#762576"/>
<rect x="435.59" y="671" width="11.24" height="10" fill="#812272"/>
<rect x="446.53" y="671" width="11.24" height="10" fill="#872170"/>
<rect x="457.47" y="671" width="11.24" height="10" fill="#872170"/>
<rect x="468.41" y="671" width="11.24" height="10" fill="#872170"/>
<rect x="479.35" y="671" width="11.24" height="10" fill="#872170"/>
<rect x="490.29" y="671" width="11.24" height="10" fill="#872170"/>
<rect x="501.24" y="671" width="11.24" height="10" fill="#872170"/>
<rect x="512.18" y="671" width="11.24" height="10" fill="#872170"/>
<rect x="523.12" y="671" width="11.24" height="10" fill="#872170"/>
<rect x="534.06" y="671" width="11.24" height="10" fill="#872170"/>
<rect x="359" y="681" width="11.24" height="10" fill="#3f2568"/>
<rect x="369.94" y="681" width="11.24" height="10" fill="#3f2568"/>
<rect x="380.88" y="681" width="11.24" height="10" fill="#3f2568"/>
<rect x="391.82" y="681" width="11.24" height="10" fill="#3f2568"/>
<rect x="402.76" y="681" width="11.24" height="10" fill="#402668"/>
<rect x="413.71" y="681" width="11.24" height="10" fill="#44266b"/>
<rect x="424.65" y="681" width="11.24" height="10" fill="#572872"/>
<rect x="435.59" y="681" width="11.24" height="10" fill="#712676"/>
<rect x="446.53" y="681" width="11.24" height="10" fill="#872170"/>
<rect x="457.47" y="681" width="11.24" height="10" fill="#872170"/>
<rect x="468.41" y="681" width="11.24" height="10" fill="#872170"/>
<rect x="479.35" y="681" width="11.24" height="10" fill="#872170"/>
<rect x="490.29" y="681" width="11.24" height="10" fill="#872170"/>
<rect x="501.24" y="681" width="11.24" height="10" fill="#872170"/>
<rect x="512.18" y="681" width="11.24" height="10" fill="#872170"/>
<rect x="523.12" y="681" width="11.24" height="10" fill="#872170"/>
<rect x="534.06" y="681" width="11.24" height="10" fill="#872170"/>
<rect x="359" y="691" width="11.24" height="40" fill="#44266b"/>
<rect x="369.94" y="691" width="11.24" height="40" fill="#44266b"/>
<rect x="380.88" y="691" width="11.24" height="40" fill="#44266b"/>
<rect x="391.82" y="691" width="11.24" height="40" fill="#44266b"/>
<rect x="402.76" y="691" width="11.24" height="40" fill="#45266b"/>
<rect x="413.71" y="691" width="11.24" height="40" fill="#4a276d"/>
<rect x="424.65" y="691" width="11.24" height="40" fill="#592873"/>
<rect x="435.59" y="691" width="11.24" height="40" fill="#732576"/>
<rect x="446.53" y="691" width="11.24" height="40" fill="#872170"/>
<rect x="457.47" y="691" width="11.24" height="40" fill="#872170"/>
<rect x="468.41" y="691" width="11.24" height="40" fill="#872170"/>
<rect x="479.35" y="691" width="11.24" height="40" fill="#872170"/>
<rect x="490.29" y="691" width="11.24" height="40" fill="#872170"/>
<rect x="501.24" y="691" width="11.24" height="40" fill="#872170"/>
<rect x="512.18" y="691" width="11.24" height="40" fill="#872170"/>
<rect x="523.12" y="691" width="11.24" height="40" fill="#872170"/>
<rect x="534.06" y="691" width="11.24" height="40" fill="#872170"/>
</g>
<path d="M369.94 176V731M380.88 176V731M391.82 176V731M402.76 176V731M413.71 176V731M424.65 176V731M435.59 176V731M446.53 176V731M457.47 176V731M468.41 176V731M479.35 176V731M490.29 176V731M501.24 176V731M512.18 176V731M523.12 176V731M534.06 176V731M359 181H545M359 186H545M359 191H545M359 196H545M359 201H545M359 206H545M359 211H545M359 216H545M359 221H545M359 226H545M359 231H545M359 236H545M359 241H545M359 246H545M359 251H545M359 256H545M359 261H545M359 266H545M359 271H545M359 276H545M359 281H545M359 286H545M359 291H545M359 296H545M359 301H545M359 306H545M359 311H545M359 316H545M359 321H545M359 326H545M359 331H545M359 336H545M359 341H545M359 346H545M359 351H545M359 356H545M359 361H545M359 366H545M359 371H545M359 376H545M359 381H545M359 386H545M359 391H545M359 396H545M359 401H545M359 406H545M359 411H545M359 416H545M359 421H545M359 426H545M359 431H545M359 436H545M359 441H545M359 446H545M359 451H545M359 456H545M359 461H545M359 466H545M359 471H545M359 476H545M359 481H545M359 486H545M359 491H545M359 496H545M359 501H545M359 506H545M359 511H545M359 516H545M359 521H545M359 526H545M359 531H545M359 536H545M359 541H545M359 546H545M359 551H545M359 556H545M359 561H545M359 566H545M359 571H545M359 576H545M359 581H545M359 586H545M359 591H545M359 596H545M359 601H545M359 606H545M359 611H545M359 616H545M359 621H545M359 626H545M359 631H545M359 636H545M359 641H545M359 646H545M359 651H545M359 656H545M359 661H545M359 666H545M359 671H545M359 676H545M359 681H545M359 686H545M359 691H545M359 696H545M359 701H545M359 706H545M359 711H545M359 716H545M359 721H545M359 726H545" stroke="#fff" stroke-opacity="0.09" stroke-width="0.5" fill="none"/>
<g shape-rendering="crispEdges">
<rect x="554" y="176" width="16" height="20" fill="#8da0cd"/>
<rect x="554" y="196" width="16" height="10" fill="#f58a61"/>
<rect x="554" y="206" width="16" height="30" fill="#8da0cd"/>
<rect x="554" y="236" width="16" height="10" fill="#f58a61"/>
<rect x="554" y="246" width="16" height="10" fill="#8da0cd"/>
<rect x="554" y="256" width="16" height="10" fill="#f58a61"/>
<rect x="554" y="266" width="16" height="10" fill="#8da0cd"/>
<rect x="554" y="276" width="16" height="5" fill="#f58a61"/>
<rect x="554" y="281" width="16" height="10" fill="#8da0cd"/>
<rect x="554" y="291" width="16" height="10" fill="#f58a61"/>
<rect x="554" y="301" width="16" height="65" fill="#8da0cd"/>
<rect x="554" y="366" width="16" height="5" fill="#f58a61"/>
<rect x="554" y="371" width="16" height="5" fill="#8da0cd"/>
<rect x="554" y="376" width="16" height="10" fill="#f58a61"/>
<rect x="554" y="386" width="16" height="5" fill="#8da0cd"/>
<rect x="554" y="391" width="16" height="5" fill="#f58a61"/>
<rect x="554" y="396" width="16" height="10" fill="#8da0cd"/>
<rect x="554" y="406" width="16" height="5" fill="#f58a61"/>
<rect x="554" y="411" width="16" height="15" fill="#8da0cd"/>
<rect x="554" y="426" width="16" height="5" fill="#f58a61"/>
<rect x="554" y="431" width="16" height="25" fill="#8da0cd"/>
<rect x="554" y="456" width="16" height="5" fill="#f58a61"/>
<rect x="554" y="461" width="16" height="10" fill="#8da0cd"/>
<rect x="554" y="471" width="16" height="5" fill="#f58a61"/>
<rect x="554" y="476" width="16" height="20" fill="#8da0cd"/>
<rect x="554" y="496" width="16" height="5" fill="#e58ac1"/>
<rect x="554" y="501" width="16" height="5" fill="#64c0a2"/>
<rect x="554" y="506" width="16" height="15" fill="#e58ac1"/>
<rect x="554" y="521" width="16" height="10" fill="#64c0a2"/>
<rect x="554" y="531" width="16" height="30" fill="#e58ac1"/>
<rect x="554" y="561" width="16" height="20" fill="#64c0a2"/>
<rect x="554" y="581" width="16" height="35" fill="#e58ac1"/>
<rect x="554" y="616" width="16" height="25" fill="#64c0a2"/>
<rect x="554" y="641" width="16" height="20" fill="#e58ac1"/>
<rect x="554" y="661" width="16" height="25" fill="#64c0a2"/>
<rect x="554" y="686" width="16" height="45" fill="#e58ac1"/>
<rect x="575.2" y="176" width="16" height="15" fill="#e5a50a"/>
<rect x="575.2" y="191" width="16" height="5" fill="#f0b656"/>
<rect x="575.2" y="196" width="16" height="5" fill="#e5a50a"/>
<rect x="575.2" y="201" width="16" height="5" fill="#f6cb8b"/>
<rect x="575.2" y="206" width="16" height="20" fill="#f0b656"/>
<rect x="575.2" y="226" width="16" height="10" fill="#e5a50a"/>
<rect x="575.2" y="236" width="16" height="10" fill="#f0b656"/>
<rect x="575.2" y="246" width="16" height="10" fill="#e5a50a"/>
<rect x="575.2" y="256" width="16" height="10" fill="#f0b656"/>
<rect x="575.2" y="266" width="16" height="10" fill="#e5a50a"/>
<rect x="575.2" y="276" width="16" height="5" fill="#f6cb8b"/>
<rect x="575.2" y="281" width="16" height="20" fill="#f0b656"/>
<rect x="575.2" y="301" width="16" height="30" fill="#e5a50a"/>
<rect x="575.2" y="331" width="16" height="10" fill="#f0b656"/>
<rect x="575.2" y="341" width="16" height="5" fill="#f6cb8b"/>
<rect x="575.2" y="346" width="16" height="15" fill="#e5a50a"/>
<rect x="575.2" y="361" width="16" height="5" fill="#f6cb8b"/>
<rect x="575.2" y="366" width="16" height="5" fill="#fbe1be"/>
<rect x="575.2" y="371" width="16" height="5" fill="#f6cb8b"/>
<rect x="575.2" y="376" width="16" height="10" fill="#fbe1be"/>
<rect x="575.2" y="386" width="16" height="15" fill="#f6cb8b"/>
<rect x="575.2" y="401" width="16" height="5" fill="#fbe1be"/>
<rect x="575.2" y="406" width="16" height="5" fill="#f0b656"/>
<rect x="575.2" y="411" width="16" height="45" fill="#fbe1be"/>
<rect x="575.2" y="456" width="16" height="10" fill="#fef2e4"/>
<rect x="575.2" y="466" width="16" height="5" fill="#f0b656"/>
<rect x="575.2" y="471" width="16" height="30" fill="#f6cb8b"/>
<rect x="575.2" y="501" width="16" height="5" fill="#fef2e4"/>
<rect x="575.2" y="506" width="16" height="20" fill="#f6cb8b"/>
<rect x="575.2" y="526" width="16" height="5" fill="#fef2e4"/>
<rect x="575.2" y="531" width="16" height="10" fill="#fbe1be"/>
<rect x="575.2" y="541" width="16" height="5" fill="#f6cb8b"/>
<rect x="575.2" y="546" width="16" height="35" fill="#fbe1be"/>
<rect x="575.2" y="581" width="16" height="5" fill="#f0b656"/>
<rect x="575.2" y="586" width="16" height="5" fill="#e5a50a"/>
<rect x="575.2" y="591" width="16" height="5" fill="#f0b656"/>
<rect x="575.2" y="596" width="16" height="20" fill="#e5a50a"/>
<rect x="575.2" y="616" width="16" height="10" fill="#f0b656"/>
<rect x="575.2" y="626" width="16" height="5" fill="#f6cb8b"/>
<rect x="575.2" y="631" width="16" height="10" fill="#f0b656"/>
<rect x="575.2" y="641" width="16" height="5" fill="#e5a50a"/>
<rect x="575.2" y="646" width="16" height="5" fill="#f0b656"/>
<rect x="575.2" y="651" width="16" height="10" fill="#e5a50a"/>
<rect x="575.2" y="661" width="16" height="5" fill="#f0b656"/>
<rect x="575.2" y="666" width="16" height="5" fill="#e5a50a"/>
<rect x="575.2" y="671" width="16" height="10" fill="#f0b656"/>
<rect x="575.2" y="681" width="16" height="5" fill="#f6cb8b"/>
<rect x="575.2" y="686" width="16" height="45" fill="#e5a50a"/>
<rect x="596.4" y="176" width="16.6" height="15" fill="#5ba572"/>
<rect x="596.4" y="191" width="16.6" height="5" fill="#a05a5a"/>
<rect x="596.4" y="196" width="16.6" height="5" fill="#6b72b0"/>
<rect x="596.4" y="201" width="16.6" height="55" fill="#a05a5a"/>
<rect x="596.4" y="256" width="16.6" height="5" fill="#5ba572"/>
<rect x="596.4" y="261" width="16.6" height="5" fill="#a05a5a"/>
<rect x="596.4" y="266" width="16.6" height="10" fill="#6b72b0"/>
<rect x="596.4" y="276" width="16.6" height="15" fill="#5ba572"/>
<rect x="596.4" y="291" width="16.6" height="30" fill="#6b72b0"/>
<rect x="596.4" y="321" width="16.6" height="10" fill="#a05a5a"/>
<rect x="596.4" y="331" width="16.6" height="10" fill="#6b72b0"/>
<rect x="596.4" y="341" width="16.6" height="5" fill="#5ba572"/>
<rect x="596.4" y="346" width="16.6" height="10" fill="#6b72b0"/>
<rect x="596.4" y="356" width="16.6" height="5" fill="#a05a5a"/>
<rect x="596.4" y="361" width="16.6" height="20" fill="#d3d3d3"/>
<rect x="596.4" y="381" width="16.6" height="5" fill="#a87cc0"/>
<rect x="596.4" y="386" width="16.6" height="10" fill="#6b72b0"/>
<rect x="596.4" y="396" width="16.6" height="5" fill="#a05a5a"/>
<rect x="596.4" y="401" width="16.6" height="5" fill="#5ba572"/>
<rect x="596.4" y="406" width="16.6" height="5" fill="#a05a5a"/>
<rect x="596.4" y="411" width="16.6" height="15" fill="#d3d3d3"/>
<rect x="596.4" y="426" width="16.6" height="5" fill="#5ba572"/>
<rect x="596.4" y="431" width="16.6" height="20" fill="#d3d3d3"/>
<rect x="596.4" y="451" width="16.6" height="5" fill="#a87cc0"/>
<rect x="596.4" y="456" width="16.6" height="10" fill="#d3d3d3"/>
<rect x="596.4" y="466" width="16.6" height="50" fill="#5ba572"/>
<rect x="596.4" y="516" width="16.6" height="5" fill="#d3d3d3"/>
<rect x="596.4" y="521" width="16.6" height="5" fill="#5ba572"/>
<rect x="596.4" y="526" width="16.6" height="35" fill="#d3d3d3"/>
<rect x="596.4" y="561" width="16.6" height="5" fill="#a87cc0"/>
<rect x="596.4" y="566" width="16.6" height="10" fill="#d3d3d3"/>
<rect x="596.4" y="576" width="16.6" height="5" fill="#6b72b0"/>
<rect x="596.4" y="581" width="16.6" height="5" fill="#5ba572"/>
<rect x="596.4" y="586" width="16.6" height="5" fill="#6b72b0"/>
<rect x="596.4" y="591" width="16.6" height="15" fill="#5ba572"/>
<rect x="596.4" y="606" width="16.6" height="25" fill="#a05a5a"/>
<rect x="596.4" y="631" width="16.6" height="5" fill="#5ba572"/>
<rect x="596.4" y="636" width="16.6" height="5" fill="#a05a5a"/>
<rect x="596.4" y="641" width="16.6" height="5" fill="#6b72b0"/>
<rect x="596.4" y="646" width="16.6" height="20" fill="#a05a5a"/>
<rect x="596.4" y="666" width="16.6" height="15" fill="#6b72b0"/>
<rect x="596.4" y="681" width="16.6" height="5" fill="#5ba572"/>
<rect x="596.4" y="686" width="16.6" height="5" fill="#6b72b0"/>
<rect x="596.4" y="691" width="16.6" height="5" fill="#a05a5a"/>
<rect x="596.4" y="696" width="16.6" height="5" fill="#5ba572"/>
<rect x="596.4" y="701" width="16.6" height="10" fill="#a05a5a"/>
<rect x="596.4" y="711" width="16.6" height="20" fill="#6b72b0"/>
</g>
<path d="M358.6 176L353.6 181V406.3L358.6 411L353.6 416V571.5L358.6 576.3L353.6 581V725.5L358.6 730.8" fill="none" stroke="#000" stroke-width="0.8" stroke-linejoin="miter"/>
<text transform="translate(324.3 284.1) rotate(-90)" text-anchor="middle" font-size="8" font-weight="bold">non-sensitive kinetic rates:</text>
<text transform="translate(335.5 277.6) rotate(-90)" text-anchor="middle" font-size="8" textLength="69.2" lengthAdjust="spacingAndGlyphs">early assembly levels,</text>
<text transform="translate(346.8 281) rotate(-90)" text-anchor="middle" font-size="8">mainly B5 and HB2</text>
<text transform="translate(324.3 502) rotate(-90)" text-anchor="middle" font-size="8" font-weight="bold">sensitive kinetic rates:</text>
<text transform="translate(335.5 502) rotate(-90)" text-anchor="middle" font-size="8">late assembly levels,</text>
<text transform="translate(346.8 502.6) rotate(-90)" text-anchor="middle" font-size="8">only HB3, HB4 and mtSSU</text>
<text transform="translate(324.3 671.7) rotate(-90)" text-anchor="middle" font-size="8" font-weight="bold">non-sensitive kinetic rates:</text>
<text transform="translate(335.5 669) rotate(-90)" text-anchor="middle" font-size="8">early assembly levels,</text>
<text transform="translate(346.8 668) rotate(-90)" text-anchor="middle" font-size="8">only B5 and HB2</text>
<text x="364.47" y="743.7" font-size="8" text-anchor="middle">10<tspan dy="-3" font-size="4.6">-4</tspan></text>
<text x="386.35" y="743.7" font-size="8" text-anchor="middle">10<tspan dy="-3" font-size="4.6">-3</tspan></text>
<text x="408.24" y="743.7" font-size="8" text-anchor="middle">10<tspan dy="-3" font-size="4.6">-2</tspan></text>
<text x="430.12" y="743.7" font-size="8" text-anchor="middle">10<tspan dy="-3" font-size="4.6">-2</tspan></text>
<text x="452" y="743.7" font-size="8" text-anchor="middle">1</text>
<text x="473.88" y="743.7" font-size="8" text-anchor="middle">10</text>
<text x="495.76" y="743.7" font-size="8" text-anchor="middle">10<tspan dy="-3" font-size="4.6">2</tspan></text>
<text x="517.65" y="743.7" font-size="8" text-anchor="middle">10<tspan dy="-3" font-size="4.6">3</tspan></text>
<text x="539.53" y="743.7" font-size="8" text-anchor="middle">10<tspan dy="-3" font-size="4.6">4</tspan></text>
<path d="M364.47 731V734.3M386.35 731V734.3M408.24 731V734.3M430.12 731V734.3M452 731V734.3M473.88 731V734.3M495.76 731V734.3M517.65 731V734.3M539.53 731V734.3" stroke="#222" stroke-width="0.6"/>
<text x="448" y="755.6" font-size="8.1" text-anchor="middle">fold change kinetic rate</text>
<text transform="translate(563.2 742.8) rotate(-45)" text-anchor="end" font-size="8">kinetic rates</text>
<text transform="translate(584.8 742.8) rotate(-45)" text-anchor="end" font-size="8">assembly levels</text>
<text transform="translate(606.8 742.8) rotate(-45)" text-anchor="end" font-size="8">assembly modules</text>
<path d="M545 411H613.3M545 496H613.3M545 577.5H613.3" stroke="#000" stroke-width="0.8"/>
<text x="633.2" y="341.5" font-size="7">Kdeg_bS18m</text>
<text x="633.2" y="350.39" font-size="7">Kdeg_mS38</text>
<text x="633.2" y="359.27" font-size="7">Kdeg_mS33</text>
<text x="633.2" y="368.16" font-size="7">Koff_HB4</text>
<text x="633.2" y="377.05" font-size="7">Kdeg_bS21m</text>
<text x="633.2" y="385.94" font-size="7">Kdeg_uS5m</text>
<text x="633.2" y="394.82" font-size="7">Kdeg_uS11m'</text>
<text x="633.2" y="403.71" font-size="7">Kdeg_uS12m'</text>
<text x="633.2" y="412.6" font-size="7">Kdeg_HB3</text>
<text x="633.2" y="421.49" font-size="7">Koff_mtSSU</text>
<text x="633.2" y="430.38" font-size="7">Kdeg_mtSSU</text>
<text x="633.2" y="439.26" font-size="7">Kdeg_H2</text>
<text x="633.2" y="448.15" font-size="7">Koff_H2'</text>
<text x="633.2" y="457.04" font-size="7">Kdeg_H3</text>
<text x="633.2" y="465.92" font-size="7">Kdeg__12SRNA</text>
<text x="633.2" y="474.81" font-size="7">Kdeg_uS14m</text>
<text x="633.2" y="483.7" font-size="7">Kdeg_uS15m</text>
<text x="633.2" y="513.8" font-size="7">Ksup_uS14m</text>
<text x="633.2" y="522.08" font-size="7">Kon_HB4</text>
<text x="633.2" y="530.36" font-size="7">Ksup_uS15m</text>
<text x="633.2" y="538.64" font-size="7">Ksup__12SRNA</text>
<text x="633.2" y="546.92" font-size="7">Ksup_uS11m</text>
<text x="633.2" y="555.2" font-size="7">Kon_H2'</text>
<text x="633.2" y="563.48" font-size="7">Kon_mtSSU</text>
<text x="633.2" y="571.76" font-size="7">Ksup_mS33</text>
<text x="633.2" y="580.04" font-size="7">Ksup_uS5m</text>
<text x="633.2" y="588.32" font-size="7">Ksup_uS12m</text>
<text x="633.2" y="596.6" font-size="7">Ksup_bS21m</text>
<text x="633.2" y="604.88" font-size="7">Ksup_bS18m</text>
<text x="633.2" y="613.16" font-size="7">Ksup_mS38</text>
<text x="633.2" y="621.44" font-size="7">Kon_HB3</text>
<text x="633.2" y="629.72" font-size="7">Kon_uS12m'</text>
<text x="633.2" y="638" font-size="7">Kon_uS11m'</text>
<path d="M628.4 339H631.4M628.4 347.89H631.4M628.4 356.77H631.4M628.4 365.66H631.4M628.4 374.55H631.4M628.4 383.44H631.4M628.4 392.32H631.4M628.4 401.21H631.4M628.4 410.1H631.4M628.4 418.99H631.4M628.4 427.88H631.4M628.4 436.76H631.4M628.4 445.65H631.4M628.4 454.54H631.4M628.4 463.42H631.4M628.4 472.31H631.4M628.4 481.2H631.4M628.4 339V481.2M628.4 511.9H631.4M628.4 520.18H631.4M628.4 528.46H631.4M628.4 536.74H631.4M628.4 545.02H631.4M628.4 553.3H631.4M628.4 561.58H631.4M628.4 569.86H631.4M628.4 578.14H631.4M628.4 586.42H631.4M628.4 594.7H631.4M628.4 602.98H631.4M628.4 611.26H631.4M628.4 619.54H631.4M628.4 627.82H631.4M628.4 636.1H631.4M628.4 511.3V636.1" stroke="#000" stroke-width="0.7" fill="none"/>
<g fill="none" stroke="#111" stroke-width="0.8" stroke-dasharray="2 3.2"><path d="M613.5 405C617 391 622 366 626.5 344"/><path d="M613.6 495.5C617 491 621 487 625 485"/><path d="M613.6 496.5C617 501 621 505.5 625 507.5"/><path d="M613.8 582C617 596 621 612 626 629"/></g>
<g fill="#111"><path d="M628 338.2L628.6 343.6L626.6 342.4L623.9 342.6Z"/><path d="M628.4 482L624.3 485.9L624.6 483.5L622.8 481.9Z"/><path d="M628.4 510.6L622.8 510.4L624.7 509L624.5 506.6Z"/><path d="M628 635.6L624 631.5L626.4 631.8L628.3 630.3Z"/></g>
<text x="295.2" y="174.6" font-size="16.3" font-weight="bold">d</text>
<text x="47.4" y="341.6" font-size="8.2" text-anchor="end">0.0</text>
<text x="47.4" y="314.4" font-size="8.2" text-anchor="end">0.5</text>
<text x="47.4" y="287.3" font-size="8.2" text-anchor="end">1.0</text>
<text x="47.4" y="260.2" font-size="8.2" text-anchor="end">1.5</text>
<text x="47.4" y="233.1" font-size="8.2" text-anchor="end">2.0</text>
<text x="47.4" y="205.9" font-size="8.2" text-anchor="end">2.5</text>
<text x="47.4" y="178.8" font-size="8.2" text-anchor="end">3.0</text>
<path d="M53.7 175.5V338.2M50.5 338.2H53.7M50.5 311.1H53.7M50.5 284H53.7M50.5 256.9H53.7M50.5 229.8H53.7M50.5 202.6H53.7M50.5 175.5H53.7" stroke="#8c8c8c" stroke-width="0.8" fill="none"/>
<text x="56.7" y="353.6" font-size="8" text-anchor="middle">10<tspan dy="-3" font-size="4.6">-4</tspan></text>
<text x="77.2" y="353.6" font-size="8" text-anchor="middle">10<tspan dy="-3" font-size="4.6">-3</tspan></text>
<text x="97.6" y="353.6" font-size="8" text-anchor="middle">10<tspan dy="-3" font-size="4.6">-2</tspan></text>
<text x="118" y="353.6" font-size="8" text-anchor="middle">10<tspan dy="-3" font-size="4.6">-2</tspan></text>
<text x="138.5" y="353.6" font-size="8" text-anchor="middle">1</text>
<text x="158.9" y="353.6" font-size="8" text-anchor="middle">10</text>
<text x="179.4" y="353.6" font-size="8" text-anchor="middle">10<tspan dy="-3" font-size="4.6">2</tspan></text>
<text x="199.8" y="353.6" font-size="8" text-anchor="middle">10<tspan dy="-3" font-size="4.6">3</tspan></text>
<text x="220.3" y="353.6" font-size="8" text-anchor="middle">10<tspan dy="-3" font-size="4.6">4</tspan></text>
<path d="M56.3 340.6H220.7M56.7 340.6V343.7M77.2 340.6V343.7M97.6 340.6V343.7M118 340.6V343.7M138.5 340.6V343.7M158.9 340.6V343.7M179.4 340.6V343.7M199.8 340.6V343.7M220.3 340.6V343.7" stroke="#555" stroke-width="0.85" fill="none"/>
<text x="86" y="175.5" font-size="8.1">binding and unbinding rates</text>
<text transform="translate(29 263.7) rotate(-90)" text-anchor="middle" font-size="8.1">fold change mtSSU abundance</text>
<text x="126.2" y="366.5" font-size="8.1" text-anchor="middle">fold change kinetic rate</text>
<path d="M56.7 311L66.9 310.8L77.2 310.1L87.4 308.1L97.6 303.3L107.8 295.8L118 289L128.3 285.4L138.5 284L148.7 269.1L158.9 251.2L169.2 231.4L179.4 215.3L189.6 205.3L199.8 200.2L210.1 197.9L220.3 196.9M56.7 323.6L66.9 323.5L77.2 323.3L87.4 322.6L97.6 319.9L107.8 311.8L118 297.9L128.3 287.5L138.5 284L148.7 271.1L158.9 256.4L169.2 247.2L179.4 243.2L189.6 241.8L199.8 241.4L210.1 241.2L220.3 241.2M56.7 321.7L66.9 321.3L77.2 319.8L87.4 315.9L97.6 307.6L107.8 296.8L118 289L128.3 285.3L138.5 284L148.7 273.5L158.9 259.6L169.2 249.3L179.4 244.5L189.6 242.8L199.8 242.2L210.1 242L220.3 242M56.7 324.7L66.9 324.6L77.2 324.2L87.4 322.8L97.6 318.1L107.8 306.8L118 293.2L128.3 286L138.5 284L148.7 274.5L158.9 261.4L169.2 251.3L179.4 246.5L189.6 244.7L199.8 244.1L210.1 243.9L220.3 243.9M56.7 310.3L66.9 308.8L77.2 304.9L87.4 297.9L97.6 290.7L107.8 286.5L118 284.8L128.3 284.2L138.5 284L148.7 280.7L158.9 277L169.2 274.7L179.4 273.7L189.6 273.3L199.8 273.2L210.1 273.2L220.3 273.2M56.7 324.1L66.9 324.1L77.2 323.8L87.4 322.7L97.6 319L107.8 309.1L118 295.1L128.3 286.6L138.5 284L148.7 283.1L158.9 281.6L169.2 280.1L179.4 279.3L189.6 279L199.8 278.9L210.1 278.9L220.3 278.9M56.7 320L66.9 319.1L77.2 315.7L87.4 307L97.6 294.9L107.8 287.5L118 284.9L128.3 284.2L138.5 284L148.7 284L158.9 283.9L169.2 283.9L179.4 283.8L189.6 283.8L199.8 283.7L210.1 283.7L220.3 283.7M56.7 317.6L66.9 317.6L77.2 317.6L87.4 317.3L97.6 316.5L107.8 313.5L118 304.8L128.3 291.6L138.5 284L148.7 283.2L158.9 282.5L169.2 282.2L179.4 282.1L189.6 282L199.8 282L210.1 282L220.3 282M56.7 315.4L66.9 315.1L77.2 314L87.4 310.4L97.6 301.7L107.8 291.6L118 286.1L128.3 284.4L138.5 284L148.7 283.5L158.9 283.1L169.2 282.9L179.4 282.9L189.6 282.8L199.8 282.8L210.1 282.8L220.3 282.8M56.7 312.7L66.9 312.6L77.2 312.2L87.4 310.5L97.6 305.5L107.8 296.1L118 288.1L128.3 284.8L138.5 284L148.7 283L158.9 282.3L169.2 281.9L179.4 281.8L189.6 281.8L199.8 281.7L210.1 281.7L220.3 281.7M56.7 311.7L66.9 311.7L77.2 311.6L87.4 311.4L97.6 310.7L107.8 308.2L118 301.1L128.3 290.3L138.5 284L148.7 282.7L158.9 281.8L169.2 281.3L179.4 281.1L189.6 281L199.8 281L210.1 281L220.3 281M56.7 310.4L66.9 308.5L77.2 302.9L87.4 293.9L97.6 287.4L107.8 284.9L118 284.2L128.3 284L138.5 284L148.7 282.7L158.9 281.7L169.2 281.2L179.4 281L189.6 281L199.8 280.9L210.1 280.9L220.3 280.9M56.7 310.3L66.9 309.6L77.2 307.2L87.4 300.8L97.6 292L107.8 286.5L118 284.6L128.3 284.1L138.5 284L148.7 282.6L158.9 281.4L169.2 280.9L179.4 280.7L189.6 280.6L199.8 280.6L210.1 280.6L220.3 280.6M56.7 310L66.9 309.7L77.2 308.8L87.4 305.8L97.6 298.7L107.8 290.3L118 285.8L128.3 284.3L138.5 284L148.7 282.7L158.9 281.6L169.2 281.1L179.4 280.9L189.6 280.9L199.8 280.8L210.1 280.8L220.3 280.8M56.7 308.9L66.9 308.9L77.2 308.9L87.4 308.6L97.6 307.5L107.8 303.8L118 295.7L128.3 287.4L138.5 284L148.7 283.9L158.9 283.8L169.2 283.8L179.4 283.8L189.6 283.7L199.8 283.7L210.1 283.7L220.3 283.7M56.7 307.9L66.9 307.8L77.2 307.7L87.4 307L97.6 304.8L107.8 298.9L118 290.6L128.3 285.5L138.5 284L148.7 283.8L158.9 283.5L169.2 282.9L179.4 282.3L189.6 281.9L199.8 281.8L210.1 281.7L220.3 281.7M56.7 307.3L66.9 307.3L77.2 307.3L87.4 307.1L97.6 306.5L107.8 304.4L118 298.4L128.3 289.3L138.5 284L148.7 283.8L158.9 283.3L169.2 282.4L179.4 281.6L189.6 281.2L199.8 281L210.1 280.9L220.3 280.9M56.7 305.6L66.9 304L77.2 299.5L87.4 292.1L97.6 286.8L107.8 284.8L118 284.2L128.3 284L138.5 284L148.7 282.5L158.9 281.2L169.2 280.6L179.4 280.4L189.6 280.3L199.8 280.3L210.1 280.3L220.3 280.3M56.7 305.6L66.9 305.4L77.2 304.7L87.4 302.2L97.6 296.2L107.8 289.2L118 285.5L128.3 284.3L138.5 284L148.7 282.7L158.9 281.7L169.2 281.2L179.4 281L189.6 280.9L199.8 280.9L210.1 280.9L220.3 280.9M56.7 304.6L66.9 304.6L77.2 304.4L87.4 303.9L97.6 302L107.8 296.9L118 289.7L128.3 285.3L138.5 284L148.7 284L158.9 283.9L169.2 283.7L179.4 283.6L189.6 283.5L199.8 283.5L210.1 283.5L220.3 283.5M56.7 303.5L66.9 303.5L77.2 303.5L87.4 303.4L97.6 302.9L107.8 301.1L118 296.1L128.3 288.4L138.5 284L148.7 283.8L158.9 283.3L169.2 282.5L179.4 281.7L189.6 281.2L199.8 281L210.1 281L220.3 280.9M56.7 308.4L66.9 308.4L77.2 308.3L87.4 308L97.6 306.9L107.8 303.4L118 295.4L128.3 287.4L138.5 284L148.7 283.8L158.9 283.4L169.2 282.6L179.4 281.9L189.6 281.5L199.8 281.4L210.1 281.3L220.3 281.3M56.7 311.1L66.9 311L77.2 310.6L87.4 309L97.6 304.3L107.8 295.4L118 287.9L128.3 284.8L138.5 284L148.7 283.3L158.9 282L169.2 280.8L179.4 280.2L189.6 279.9L199.8 279.8L210.1 279.8L220.3 279.8M56.7 313.7L66.9 313.5L77.2 312.5L87.4 309L97.6 300.8L107.8 291.2L118 286L128.3 284.4L138.5 284L148.7 283.1L158.9 281.6L169.2 280.2L179.4 279.4L189.6 279.1L199.8 279L210.1 279L220.3 279" fill="none" stroke="#5dbb9b" stroke-width="0.55" stroke-opacity="0.9"/>
<path d="M56.7 250.4L66.9 250.4L77.2 250.4L87.4 250.6L97.6 251.4L107.8 254.7L118 264.5L128.3 278L138.5 284L148.7 295.5L158.9 312.7L169.2 327L179.4 334.2L189.6 336.9L199.8 337.8L210.1 338.1L220.3 338.2M56.7 255.8L66.9 255.8L77.2 255.8L87.4 255.9L97.6 256.4L107.8 258.2L118 264.8L128.3 276.9L138.5 284L148.7 294.8L158.9 308.4L169.2 318L179.4 322.4L189.6 323.9L199.8 324.4L210.1 324.6L220.3 324.7M56.7 266.6L66.9 266.6L77.2 266.7L87.4 266.8L97.6 267.2L107.8 268.9L118 273.9L128.3 280.9L138.5 284L148.7 286L158.9 291.3L169.2 301.2L179.4 312.2L189.6 319.1L199.8 322.1L210.1 323.1L220.3 323.4M56.7 277.5L66.9 277.5L77.2 277.5L87.4 277.5L97.6 277.6L107.8 278.1L118 279.6L128.3 282.4L138.5 284L148.7 286.6L158.9 292.6L169.2 301.9L179.4 310L189.6 314.2L199.8 315.8L210.1 316.3L220.3 316.5M56.7 278.6L66.9 278.6L77.2 278.6L87.4 278.6L97.6 278.7L107.8 279.3L118 280.8L128.3 283L138.5 284L148.7 292.2L158.9 301.4L169.2 307.3L179.4 309.8L189.6 310.7L199.8 311L210.1 311.1L220.3 311.1M56.7 283L66.9 283L77.2 283L87.4 283L97.6 283.1L107.8 283.1L118 283.4L128.3 283.8L138.5 284L148.7 288.1L158.9 295.6L169.2 303.5L179.4 308.2L189.6 310.1L199.8 310.8L210.1 311L220.3 311.1M56.7 281.4L66.9 281.4L77.2 281.4L87.4 281.4L97.6 281.5L107.8 281.6L118 282.2L128.3 283.3L138.5 284L148.7 285.4L158.9 289L169.2 295.8L179.4 303.3L189.6 308.1L199.8 310.1L210.1 310.8L220.3 311M56.7 281.7L66.9 281.7L77.2 281.7L87.4 281.7L97.6 281.8L107.8 282.1L118 282.9L128.3 283.7L138.5 284L148.7 284.6L158.9 286.2L169.2 290.1L179.4 297L189.6 303.8L199.8 307.7L210.1 309.2L220.3 309.8M56.7 283.2L66.9 283.2L77.2 283.2L87.4 283.2L97.6 283.2L107.8 283.3L118 283.5L128.3 283.8L138.5 284L148.7 285.5L158.9 289L169.2 295L179.4 300.7L189.6 303.8L199.8 305.1L210.1 305.5L220.3 305.6M56.7 282.1L66.9 282.1L77.2 282.1L87.4 282.1L97.6 282.2L107.8 282.4L118 283.1L128.3 283.7L138.5 284L148.7 284.2L158.9 284.7L169.2 286.3L179.4 290.1L189.6 296.5L199.8 302.8L210.1 306.3L220.3 307.7M56.7 282.3L66.9 282.3L77.2 282.3L87.4 282.3L97.6 282.4L107.8 282.6L118 283.1L128.3 283.8L138.5 284L148.7 284.1L158.9 284.3L169.2 285.1L179.4 287.3L189.6 292.4L199.8 300.6L210.1 307.8L220.3 311.6M56.7 281.2L66.9 281.2L77.2 281.2L87.4 281.2L97.6 281.2L107.8 281.5L118 282.3L128.3 283.5L138.5 284L148.7 284L158.9 284.1L169.2 284.4L179.4 285.3L189.6 287.8L199.8 292.7L210.1 298.7L220.3 302.9M56.7 281.6L66.9 281.6L77.2 281.6L87.4 281.6L97.6 281.7L107.8 281.9L118 282.6L128.3 283.6L138.5 284L148.7 284L158.9 284.1L169.2 284.3L179.4 285L189.6 287L199.8 291.7L210.1 299.1L220.3 305.7M56.7 283.1L66.9 283.1L77.2 283.1L87.4 283.1L97.6 283.1L107.8 283.2L118 283.5L128.3 283.9L138.5 284L148.7 284L158.9 284.1L169.2 284.2L179.4 284.8L189.6 286.4L199.8 290.5L210.1 298.4L220.3 307.2M56.7 280.8L66.9 280.8L77.2 280.8L87.4 280.8L97.6 280.9L107.8 281.2L118 282.1L128.3 283.4L138.5 284L148.7 284L158.9 284.2L169.2 284.6L179.4 285.8L189.6 288.2L199.8 291.2L210.1 293.4L220.3 294.3M56.7 283.6L66.9 283.6L77.2 283.6L87.4 283.6L97.6 283.6L107.8 283.7L118 283.8L128.3 283.9L138.5 284L148.7 284L158.9 284L169.2 284.1L179.4 284.3L189.6 284.8L199.8 286L210.1 288.2L220.3 290.3M56.7 282.4L66.9 282.4L77.2 282.4L87.4 282.5L97.6 282.7L107.8 283L118 283.5L128.3 283.8L138.5 284L148.7 284.1L158.9 284.4L169.2 284.9L179.4 285.3L189.6 285.6L199.8 285.7L210.1 285.7L220.3 285.7M56.7 283.8L66.9 283.8L77.2 283.8L87.4 283.8L97.6 283.8L107.8 283.9L118 283.9L128.3 284L138.5 284L148.7 284L158.9 284L169.2 284.1L179.4 284.2L189.6 284.2L199.8 284.2L210.1 284.2L220.3 284.2M56.7 283.1L66.9 283.1L77.2 283.1L87.4 283.2L97.6 283.3L107.8 283.5L118 283.7L128.3 283.9L138.5 284L148.7 284.1L158.9 284.3L169.2 284.8L179.4 285.2L189.6 285.4L199.8 285.5L210.1 285.5L220.3 285.5M56.7 283.8L66.9 283.8L77.2 283.8L87.4 283.8L97.6 283.8L107.8 283.9L118 283.9L128.3 284L138.5 284L148.7 284.1L158.9 284.4L169.2 284.8L179.4 285.2L189.6 285.4L199.8 285.5L210.1 285.6L220.3 285.6M56.7 283L66.9 283L77.2 283L87.4 283.1L97.6 283.2L107.8 283.4L118 283.7L128.3 283.9L138.5 284L148.7 284.1L158.9 284.3L169.2 284.6L179.4 285L189.6 285.1L199.8 285.2L210.1 285.2L220.3 285.3M56.7 281.8L66.9 281.8L77.2 281.8L87.4 281.9L97.6 282.2L107.8 282.7L118 283.3L128.3 283.8L138.5 284L148.7 284.1L158.9 284.2L169.2 284.5L179.4 284.7L189.6 284.9L199.8 284.9L210.1 285L220.3 285M56.7 281.7L66.9 281.7L77.2 281.7L87.4 281.8L97.6 282.1L107.8 282.6L118 283.3L128.3 283.8L138.5 284L148.7 284.1L158.9 284.4L169.2 285L179.4 285.5L189.6 285.8L199.8 285.9L210.1 285.9L220.3 285.9M56.7 282.9L66.9 282.9L77.2 282.9L87.4 282.9L97.6 283.1L107.8 283.3L118 283.6L128.3 283.9L138.5 284L148.7 284.1L158.9 284.5L169.2 285L179.4 285.6L189.6 285.9L199.8 286L210.1 286L220.3 286M56.7 282.8L66.9 282.9L77.2 282.9L87.4 282.9L97.6 283L107.8 283.3L118 283.6L128.3 283.9L138.5 284L148.7 284.1L158.9 284.3L169.2 284.7L179.4 285L189.6 285.2L199.8 285.3L210.1 285.3L220.3 285.3M56.7 282.4L66.9 282.4L77.2 282.4L87.4 282.5L97.6 282.7L107.8 283L118 283.5L128.3 283.8L138.5 284L148.7 284L158.9 284.1L169.2 284.2L179.4 284.4L189.6 284.4L199.8 284.5L210.1 284.5L220.3 284.5" fill="none" stroke="#f4875e" stroke-width="0.55" stroke-opacity="0.9"/>
<text x="226.3" y="198" font-size="7">Kon HB4</text>
<text x="226.3" y="239.5" font-size="7">Kon H2'</text>
<text x="226.3" y="248" font-size="7">Kon mtSSU</text>
<text x="226.3" y="274.3" font-size="7">Kon HB3</text>
<text x="226.3" y="305.5" font-size="7">Koff:</text>
<text x="226.3" y="313.8" font-size="7">HB2, HB3,</text>
<text x="226.3" y="322.1" font-size="7">HB4, uS11m',</text>
<text x="226.3" y="330.5" font-size="7">uS12m'</text>
<text x="226.3" y="341.3" font-size="7">Koff mtSSU</text>
<text x="-0.5" y="174.6" font-size="16.3" font-weight="bold">b</text>
<text x="47.4" y="570.8" font-size="8.2" text-anchor="end">0.0</text>
<text x="47.4" y="543.6" font-size="8.2" text-anchor="end">0.5</text>
<text x="47.4" y="516.5" font-size="8.2" text-anchor="end">1.0</text>
<text x="47.4" y="489.3" font-size="8.2" text-anchor="end">1.5</text>
<text x="47.4" y="462.1" font-size="8.2" text-anchor="end">2.0</text>
<text x="47.4" y="435" font-size="8.2" text-anchor="end">2.5</text>
<text x="47.4" y="407.8" font-size="8.2" text-anchor="end">3.0</text>
<path d="M53.7 404.5V567.5M50.5 567.5H53.7M50.5 540.3H53.7M50.5 513.2H53.7M50.5 486H53.7M50.5 458.8H53.7M50.5 431.7H53.7M50.5 404.5H53.7" stroke="#8c8c8c" stroke-width="0.8" fill="none"/>
<text x="56.7" y="582.6" font-size="8" text-anchor="middle">10<tspan dy="-3" font-size="4.6">-4</tspan></text>
<text x="77.2" y="582.6" font-size="8" text-anchor="middle">10<tspan dy="-3" font-size="4.6">-3</tspan></text>
<text x="97.6" y="582.6" font-size="8" text-anchor="middle">10<tspan dy="-3" font-size="4.6">-2</tspan></text>
<text x="118" y="582.6" font-size="8" text-anchor="middle">10<tspan dy="-3" font-size="4.6">-2</tspan></text>
<text x="138.5" y="582.6" font-size="8" text-anchor="middle">1</text>
<text x="158.9" y="582.6" font-size="8" text-anchor="middle">10</text>
<text x="179.4" y="582.6" font-size="8" text-anchor="middle">10<tspan dy="-3" font-size="4.6">2</tspan></text>
<text x="199.8" y="582.6" font-size="8" text-anchor="middle">10<tspan dy="-3" font-size="4.6">3</tspan></text>
<text x="220.3" y="582.6" font-size="8" text-anchor="middle">10<tspan dy="-3" font-size="4.6">4</tspan></text>
<path d="M56.3 569.9H220.7M56.7 569.9V573M77.2 569.9V573M97.6 569.9V573M118 569.9V573M138.5 569.9V573M158.9 569.9V573M179.4 569.9V573M199.8 569.9V573M220.3 569.9V573" stroke="#555" stroke-width="0.85" fill="none"/>
<text x="92.5" y="405" font-size="8.1">supply and degradation rates</text>
<text transform="translate(29 492.5) rotate(-90)" text-anchor="middle" font-size="8.1">fold change mtSSU abundance</text>
<text x="126.2" y="596" font-size="8.1" text-anchor="middle">fold change kinetic rate</text>
<path d="M56.7 551.2L66.9 551.2L77.2 551.1L87.4 550.9L97.6 549.9L107.8 546.5L118 536.7L128.3 521.8L138.5 513.2L148.7 490.5L158.9 466.4L169.2 445.2L179.4 431.7L189.6 424.9L199.8 421.8L210.1 420.6L220.3 420.1M56.7 549.6L66.9 549.6L77.2 549.5L87.4 549.3L97.6 548.4L107.8 545.1L118 535.7L128.3 521.4L138.5 513.2L148.7 491.4L158.9 469.4L169.2 450.8L179.4 439.4L189.6 433.7L199.8 431.2L210.1 430.2L220.3 429.8M56.7 548.5L66.9 548.5L77.2 548.4L87.4 548.1L97.6 547.1L107.8 543.3L118 533.5L128.3 520.1L138.5 513.2L148.7 493.4L158.9 472.4L169.2 453.9L179.4 442.1L189.6 436.2L199.8 433.5L210.1 432.4L220.3 432M56.7 544.7L66.9 544.7L77.2 544.6L87.4 544.4L97.6 543.4L107.8 540.1L118 531.3L128.3 519.4L138.5 513.2L148.7 498.3L158.9 483.8L169.2 475.7L179.4 472.4L189.6 471.3L199.8 471L210.1 470.8L220.3 470.8M56.7 541.4L66.9 541.4L77.2 541.3L87.4 541L97.6 539.7L107.8 535.6L118 526.4L128.3 517L138.5 513.2L148.7 498.5L158.9 484.2L169.2 476.2L179.4 473L189.6 471.9L199.8 471.5L210.1 471.4L220.3 471.4M56.7 537.6L66.9 537.6L77.2 537.6L87.4 537.4L97.6 536.6L107.8 534.1L118 527.2L128.3 518L138.5 513.2L148.7 500.7L158.9 486.6L169.2 477.7L179.4 473.9L189.6 472.5L199.8 472.1L210.1 471.9L220.3 471.9M56.7 536.5L66.9 536.5L77.2 536.5L87.4 536.3L97.6 535.6L107.8 533.1L118 526.6L128.3 517.8L138.5 513.2L148.7 498.9L158.9 485L169.2 477.1L179.4 474L189.6 472.9L199.8 472.6L210.1 472.5L220.3 472.4M56.7 534.9L66.9 534.9L77.2 534.9L87.4 534.8L97.6 534.3L107.8 532.7L118 527.7L128.3 519L138.5 513.2L148.7 500.9L158.9 487L169.2 478.1L179.4 474.4L189.6 473.1L199.8 472.6L210.1 472.5L220.3 472.4M56.7 533.8L66.9 533.8L77.2 533.8L87.4 533.6L97.6 533L107.8 530.8L118 525L128.3 517.2L138.5 513.2L148.7 502.5L158.9 489L169.2 479.6L179.4 475.3L189.6 473.7L199.8 473.2L210.1 473L220.3 473M56.7 532.2L66.9 532.2L77.2 532.1L87.4 532L97.6 531.4L107.8 529.4L118 524.1L128.3 516.9L138.5 513.2L148.7 499.3L158.9 485.7L169.2 478.1L179.4 475L189.6 474L199.8 473.7L210.1 473.6L220.3 473.5M56.7 529.4L66.9 529.3L77.2 529L87.4 528.1L97.6 525.7L107.8 521.4L118 516.9L128.3 514.3L138.5 513.2L148.7 510.9L158.9 508.7L169.2 507.4L179.4 506.9L189.6 506.7L199.8 506.7L210.1 506.7L220.3 506.7M56.7 535.9L66.9 535.8L77.2 535.3L87.4 534L97.6 530.7L107.8 524.7L118 518.4L128.3 514.7L138.5 513.2L148.7 512L158.9 510.6L169.2 509.5L179.4 509.1L189.6 508.9L199.8 508.8L210.1 508.8L220.3 508.8M56.7 534.2L66.9 534.1L77.2 534.1L87.4 533.8L97.6 532.9L107.8 529.8L118 523L128.3 516.1L138.5 513.2L148.7 513L158.9 512.8L169.2 512.6L179.4 512.5L189.6 512.4L199.8 512.4L210.1 512.4L220.3 512.4M56.7 536.1L66.9 536.1L77.2 536.1L87.4 535.9L97.6 535.2L107.8 532.8L118 526.4L128.3 517.7L138.5 513.2L148.7 512.8L158.9 512.3L169.2 511.8L179.4 511.5L189.6 511.4L199.8 511.3L210.1 511.3L220.3 511.3M56.7 536.3L66.9 536.3L77.2 536.3L87.4 536.1L97.6 535.7L107.8 533.9L118 528.7L128.3 519.4L138.5 513.2L148.7 513.1L158.9 513L169.2 512.9L179.4 512.8L189.6 512.8L199.8 512.8L210.1 512.8L220.3 512.8M56.7 537.3L66.9 537.3L77.2 537.3L87.4 537.1L97.6 536.6L107.8 534.8L118 529.3L128.3 519.6L138.5 513.2L148.7 512.9L158.9 512.3L169.2 511.8L179.4 511.5L189.6 511.4L199.8 511.4L210.1 511.4L220.3 511.4M56.7 538.1L66.9 538.1L77.2 538L87.4 537.7L97.6 536.6L107.8 532.9L118 524.8L128.3 516.6L138.5 513.2L148.7 513.1L158.9 512.9L169.2 512.8L179.4 512.7L189.6 512.7L199.8 512.7L210.1 512.7L220.3 512.7M56.7 536.8L66.9 536.8L77.2 536.7L87.4 536.6L97.6 536.1L107.8 534.4L118 529L128.3 519.5L138.5 513.2L148.7 513L158.9 512.6L169.2 512.3L179.4 512.1L189.6 512.1L199.8 512L210.1 512L220.3 512M56.7 536.4L66.9 536.3L77.2 536.3L87.4 536L97.6 535L107.8 531.6L118 524L128.3 516.4L138.5 513.2L148.7 513L158.9 512.8L169.2 512.5L179.4 512.4L189.6 512.3L199.8 512.3L210.1 512.3L220.3 512.3M56.7 537.5L66.9 537.5L77.2 537.5L87.4 537.2L97.6 536.1L107.8 532.5L118 524.6L128.3 516.5L138.5 513.2L148.7 512.7L158.9 511.9L169.2 511.2L179.4 510.8L189.6 510.7L199.8 510.6L210.1 510.6L220.3 510.6M56.7 535L66.9 534.9L77.2 534.9L87.4 534.6L97.6 533.7L107.8 530.4L118 523.4L128.3 516.2L138.5 513.2L148.7 513.1L158.9 513.1L169.2 513.1L179.4 513L189.6 513L199.8 513L210.1 513L220.3 513M56.7 533.8L66.9 533.7L77.2 533.7L87.4 533.4L97.6 532.5L107.8 529.5L118 522.8L128.3 516L138.5 513.2L148.7 512.8L158.9 512.1L169.2 511.5L179.4 511.2L189.6 511.1L199.8 511L210.1 511L220.3 511M56.7 536.2L66.9 536.2L77.2 536.2L87.4 536L97.6 535.3L107.8 532.9L118 526.4L128.3 517.7L138.5 513.2L148.7 513L158.9 512.7L169.2 512.4L179.4 512.2L189.6 512.1L199.8 512.1L210.1 512.1L220.3 512.1M56.7 535.8L66.9 535.8L77.2 535.7L87.4 535.6L97.6 534.9L107.8 532.5L118 526.2L128.3 517.6L138.5 513.2L148.7 513.1L158.9 513.1L169.2 513L179.4 513L189.6 513L199.8 513L210.1 513L220.3 513M56.7 537.8L66.9 537.8L77.2 537.8L87.4 537.7L97.6 537.2L107.8 535.3L118 529.7L128.3 519.8L138.5 513.2L148.7 513L158.9 512.6L169.2 512.3L179.4 512.1L189.6 512L199.8 512L210.1 512L220.3 512M56.7 537.6L66.9 537.6L77.2 537.5L87.4 537.2L97.6 536.2L107.8 532.6L118 524.6L128.3 516.5L138.5 513.2L148.7 513.1L158.9 513.1L169.2 513.1L179.4 513L189.6 513L199.8 513L210.1 513L220.3 513" fill="none" stroke="#e278b2" stroke-width="0.55" stroke-opacity="0.9"/>
<path d="M56.7 466.4L66.9 466.5L77.2 466.5L87.4 466.6L97.6 467.2L107.8 469.5L118 478.5L128.3 498.7L138.5 513.2L148.7 524.7L158.9 541.9L169.2 556.2L179.4 563.4L189.6 566.2L199.8 567.1L210.1 567.4L220.3 567.5M56.7 470.8L66.9 470.8L77.2 470.9L87.4 471.1L97.6 472.1L107.8 476.2L118 488.6L128.3 505.6L138.5 513.2L148.7 522.8L158.9 536.1L169.2 546.3L179.4 551.2L189.6 553L199.8 553.6L210.1 553.8L220.3 553.9M56.7 477.9L66.9 477.9L77.2 477.9L87.4 478L97.6 478.4L107.8 480.2L118 487L128.3 502.2L138.5 513.2L148.7 519.2L158.9 530.2L169.2 541.7L179.4 548.5L189.6 551.4L199.8 552.4L210.1 552.7L220.3 552.8M56.7 479.5L66.9 479.5L77.2 479.5L87.4 479.7L97.6 480.5L107.8 483.8L118 493.6L128.3 507.2L138.5 513.2L148.7 517L158.9 525.3L169.2 536.8L179.4 545.7L189.6 550L199.8 551.5L210.1 552L220.3 552.2M56.7 482.2L66.9 482.2L77.2 482.2L87.4 482.3L97.6 482.7L107.8 484.3L118 490.2L128.3 503.6L138.5 513.2L148.7 517.3L158.9 525.4L169.2 535.1L179.4 541.5L189.6 544.3L199.8 545.3L210.1 545.6L220.3 545.7M56.7 483.3L66.9 483.3L77.2 483.3L87.4 483.4L97.6 483.9L107.8 485.9L118 492.8L128.3 505.6L138.5 513.2L148.7 519.2L158.9 528.1L169.2 535.6L179.4 539.3L189.6 540.7L199.8 541.2L210.1 541.4L220.3 541.4M56.7 484.9L66.9 484.9L77.2 485L87.4 485.1L97.6 485.8L107.8 488.5L118 496.8L128.3 508.1L138.5 513.2L148.7 515L158.9 519.4L169.2 526.9L179.4 534L189.6 538L199.8 539.5L210.1 540.1L220.3 540.3M56.7 491.4L66.9 491.4L77.2 491.5L87.4 491.5L97.6 491.8L107.8 492.9L118 497.1L128.3 506.4L138.5 513.2L148.7 514.1L158.9 516.6L169.2 522L179.4 529.4L189.6 535.1L199.8 537.8L210.1 538.8L220.3 539.1M56.7 493.1L66.9 493.1L77.2 493.1L87.4 493.1L97.6 493.4L107.8 494.4L118 498.3L128.3 506.9L138.5 513.2L148.7 517.5L158.9 524.8L169.2 531.6L179.4 535.4L189.6 536.9L199.8 537.4L210.1 537.5L220.3 537.6M56.7 495.8L66.9 495.8L77.2 495.8L87.4 495.8L97.6 496L107.8 496.9L118 500.3L128.3 507.8L138.5 513.2L148.7 513.5L158.9 514.5L169.2 517L179.4 522.2L189.6 528.6L199.8 533L210.1 535L220.3 535.7M56.7 502.3L66.9 502.3L77.2 502.3L87.4 502.4L97.6 502.6L107.8 503.7L118 506.9L128.3 511.2L138.5 513.2L148.7 513.3L158.9 513.8L169.2 515.1L179.4 518.6L189.6 525.1L199.8 532.6L210.1 537.3L220.3 539.3M56.7 507.7L66.9 507.7L77.2 507.7L87.4 507.8L97.6 507.8L107.8 508.2L118 509.5L128.3 511.8L138.5 513.2L148.7 513.2L158.9 513.4L169.2 513.9L179.4 515.4L189.6 519.4L199.8 526.7L210.1 534.8L220.3 539.8M56.7 512.7L66.9 512.7L77.2 512.7L87.4 512.7L97.6 512.8L107.8 512.9L118 513L128.3 513.1L138.5 513.2L148.7 515.1L158.9 520.2L169.2 529.7L179.4 540.3L189.6 546.9L199.8 549.7L210.1 550.7L220.3 551M56.7 512.3L66.9 512.4L77.2 512.4L87.4 512.4L97.6 512.5L107.8 512.7L118 512.9L128.3 513.1L138.5 513.2L148.7 513.9L158.9 516.1L169.2 521.4L179.4 530.7L189.6 540L199.8 545.3L210.1 547.4L220.3 548.1M56.7 512L66.9 512L77.2 512.1L87.4 512.1L97.6 512.2L107.8 512.5L118 512.8L128.3 513.1L138.5 513.2L148.7 513.4L158.9 514.1L169.2 516.1L179.4 521L189.6 529.3L199.8 537.4L210.1 542L220.3 543.8M56.7 512L66.9 512L77.2 512L87.4 512.1L97.6 512.2L107.8 512.5L118 512.8L128.3 513.1L138.5 513.2L148.7 513.2L158.9 513.5L169.2 514.2L179.4 516.2L189.6 520.8L199.8 528.3L210.1 534.8L220.3 538.3M56.7 512.8L66.9 512.8L77.2 512.8L87.4 512.8L97.6 512.8L107.8 512.9L118 513L128.3 513.1L138.5 513.2L148.7 513.2L158.9 513.3L169.2 513.5L179.4 514.3L189.6 516.5L199.8 521.3L210.1 528.1L220.3 533.5M56.7 510.4L66.9 510.4L77.2 510.5L87.4 510.6L97.6 510.9L107.8 511.5L118 512.3L128.3 512.9L138.5 513.2L148.7 515.9L158.9 521.3L169.2 527.8L179.4 532L189.6 533.9L199.8 534.6L210.1 534.8L220.3 534.9M56.7 509.9L66.9 510L77.2 510L87.4 510.1L97.6 510.5L107.8 511.2L118 512.2L128.3 512.9L138.5 513.2L148.7 514L158.9 516.3L169.2 521L179.4 526.9L189.6 531L199.8 532.8L210.1 533.5L220.3 533.7M56.7 511.7L66.9 511.7L77.2 511.7L87.4 511.7L97.6 511.9L107.8 512.3L118 512.7L128.3 513L138.5 513.2L148.7 519.7L158.9 527.1L169.2 531.9L179.4 533.9L189.6 534.6L199.8 534.8L210.1 534.9L220.3 534.9M56.7 511.6L66.9 511.6L77.2 511.6L87.4 511.7L97.6 511.9L107.8 512.2L118 512.7L128.3 513L138.5 513.2L148.7 513.2L158.9 513.2L169.2 513.2L179.4 513.3L189.6 513.3L199.8 513.3L210.1 513.3L220.3 513.3M56.7 512.8L66.9 512.8L77.2 512.8L87.4 512.9L97.6 512.9L107.8 513L118 513.1L128.3 513.1L138.5 513.2L148.7 513.2L158.9 513.3L169.2 513.5L179.4 513.6L189.6 513.7L199.8 513.7L210.1 513.7L220.3 513.7M56.7 512.3L66.9 512.3L77.2 512.3L87.4 512.4L97.6 512.5L107.8 512.6L118 512.9L128.3 513.1L138.5 513.2L148.7 513.3L158.9 513.5L169.2 513.9L179.4 514.2L189.6 514.4L199.8 514.5L210.1 514.5L220.3 514.5M56.7 512.6L66.9 512.6L77.2 512.7L87.4 512.7L97.6 512.7L107.8 512.9L118 513L128.3 513.1L138.5 513.2L148.7 513.2L158.9 513.2L169.2 513.2L179.4 513.2L189.6 513.2L199.8 513.2L210.1 513.2L220.3 513.2M56.7 510.1L66.9 510.1L77.2 510.1L87.4 510.3L97.6 510.6L107.8 511.3L118 512.2L128.3 512.9L138.5 513.2L148.7 513.2L158.9 513.4L169.2 513.6L179.4 513.8L189.6 514L199.8 514L210.1 514L220.3 514M56.7 512.7L66.9 512.7L77.2 512.7L87.4 512.7L97.6 512.8L107.8 512.9L118 513L128.3 513.1L138.5 513.2L148.7 513.2L158.9 513.4L169.2 513.6L179.4 513.8L189.6 514L199.8 514L210.1 514L220.3 514.1M56.7 513.1L66.9 513.1L77.2 513.1L87.4 513.1L97.6 513.1L107.8 513.1L118 513.1L128.3 513.2L138.5 513.2L148.7 513.2L158.9 513.4L169.2 513.6L179.4 513.8L189.6 514L199.8 514L210.1 514L220.3 514M56.7 510L66.9 510L77.2 510L87.4 510.2L97.6 510.5L107.8 511.2L118 512.2L128.3 512.9L138.5 513.2L148.7 513.3L158.9 513.5L169.2 513.9L179.4 514.2L189.6 514.5L199.8 514.5L210.1 514.6L220.3 514.6M56.7 510.9L66.9 510.9L77.2 510.9L87.4 511L97.6 511.3L107.8 511.8L118 512.5L128.3 512.9L138.5 513.2L148.7 513.2L158.9 513.3L169.2 513.4L179.4 513.5L189.6 513.6L199.8 513.6L210.1 513.6L220.3 513.6M56.7 512L66.9 512L77.2 512L87.4 512L97.6 512.2L107.8 512.4L118 512.8L128.3 513.1L138.5 513.2L148.7 513.2L158.9 513.2L169.2 513.3L179.4 513.4L189.6 513.4L199.8 513.4L210.1 513.4L220.3 513.4" fill="none" stroke="#8396c8" stroke-width="0.55" stroke-opacity="0.9"/>
<text x="226.3" y="422.5" font-size="7">Ksup uS14m</text>
<text x="226.3" y="431.8" font-size="7">Ksup uS15m</text>
<text x="226.3" y="439.3" font-size="7">Ksup 12SRNA</text>
<text x="226.3" y="464.3" font-size="7">Ksup:</text>
<text x="226.3" y="472.5" font-size="7">uS5m, mS38, mS33,</text>
<text x="226.3" y="480.8" font-size="7">bS21m, bS18m, uS11m,</text>
<text x="226.3" y="489.3" font-size="7">uS12m</text>
<text x="226.3" y="523.3" font-size="7">Kdeg:</text>
<text x="226.3" y="532" font-size="7">mS38, uS11m, uS11m',</text>
<text x="226.3" y="540.5" font-size="7">uS12m, uS12m', mS33,</text>
<text x="226.3" y="548.8" font-size="7">uS5m, bS21m, bS18m,</text>
<text x="226.3" y="557" font-size="7">HB3, HB4</text>
<text x="226.3" y="571.3" font-size="7">Kdeg mtSSU</text>
<text x="-0.5" y="393" font-size="16.3" font-weight="bold">c</text>
<text x="20.5" y="657" font-size="8">kinetic rates:</text>
<rect x="20.5" y="666.9" width="9" height="5.6" fill="#64c0a2"/>
<text x="33" y="672.5" font-size="8">on rates</text>
<rect x="20.5" y="680.4" width="9" height="5.6" fill="#f58a61"/>
<text x="33" y="686" font-size="8">off rates</text>
<rect x="20.5" y="693.8" width="9" height="5.6" fill="#e58ac1"/>
<text x="33" y="699.4" font-size="8">supply rates</text>
<rect x="20.5" y="707.3" width="9" height="5.6" fill="#8da0cd"/>
<text x="33" y="712.9" font-size="8">degradation rates</text>
<text x="108.3" y="645.8" font-size="8">assembly</text>
<text x="108.3" y="657" font-size="8">levels:</text>
<rect x="110.8" y="665.9" width="8.8" height="5.8" fill="#e5a50a"/>
<text x="122" y="671.6" font-size="8">1</text>
<rect x="110.8" y="676.8" width="8.8" height="5.8" fill="#e6a712"/>
<text x="122" y="682.4" font-size="8">2</text>
<rect x="110.8" y="687.6" width="8.8" height="5.8" fill="#f0b656"/>
<text x="122" y="693.3" font-size="8">3</text>
<rect x="110.8" y="698.4" width="8.8" height="5.8" fill="#f6cb8b"/>
<text x="122" y="704.1" font-size="8">4</text>
<rect x="110.8" y="709.3" width="8.8" height="5.8" fill="#fbe1be"/>
<text x="122" y="715" font-size="8">5</text>
<rect x="110.8" y="720.1" width="8.8" height="5.8" fill="#fef2e4"/>
<text x="122" y="725.8" font-size="8">6</text>
<text x="160.5" y="645.8" font-size="8">assembly</text>
<text x="160.5" y="657" font-size="8">modules:</text>
<text x="195.6" y="657" font-size="6" style="fill:#555;stroke:none">,</text>
<rect x="160.5" y="666.5" width="9" height="5.6" fill="#a05a5a"/>
<text x="173.3" y="672.1" font-size="8">B5</text>
<rect x="160.5" y="680" width="9" height="5.6" fill="#6b72b0"/>
<text x="173.3" y="685.6" font-size="8">HB2</text>
<rect x="160.5" y="693.5" width="9" height="5.6" fill="#a87cc0"/>
<text x="173.3" y="699.1" font-size="8">HB3</text>
<rect x="160.5" y="707" width="9" height="5.6" fill="#5ba572"/>
<text x="173.3" y="712.6" font-size="8">HB4</text>
<rect x="160.5" y="720.5" width="9" height="5.6" fill="#d3d3d3"/>
<text x="173.3" y="726.1" font-size="8">mtSSU</text>
<text x="221.3" y="645.8" font-size="8">mtSSU abundance</text>
<text x="221.3" y="657" font-size="8">fold change:</text>
<g shape-rendering="crispEdges">
<rect x="221.3" y="664.50" width="8.7" height="2.19" fill="#fcfea4"/>
<rect x="221.3" y="666.49" width="8.7" height="2.19" fill="#f3f689"/>
<rect x="221.3" y="668.49" width="8.7" height="2.19" fill="#f1e968"/>
<rect x="221.3" y="670.48" width="8.7" height="2.19" fill="#f4dc4f"/>
<rect x="221.3" y="672.47" width="8.7" height="2.19" fill="#f8cd37"/>
<rect x="221.3" y="674.47" width="8.7" height="2.19" fill="#fabf25"/>
<rect x="221.3" y="676.46" width="8.7" height="2.19" fill="#fbb014"/>
<rect x="221.3" y="678.45" width="8.7" height="2.19" fill="#fba007"/>
<rect x="221.3" y="680.45" width="8.7" height="2.19" fill="#fa9107"/>
<rect x="221.3" y="682.44" width="8.7" height="2.19" fill="#f7850e"/>
<rect x="221.3" y="684.44" width="8.7" height="2.19" fill="#f37719"/>
<rect x="221.3" y="686.43" width="8.7" height="2.19" fill="#ed6a23"/>
<rect x="221.3" y="688.42" width="8.7" height="2.19" fill="#e65e2d"/>
<rect x="221.3" y="690.42" width="8.7" height="2.19" fill="#de5337"/>
<rect x="221.3" y="692.41" width="8.7" height="2.19" fill="#d54940"/>
<rect x="221.3" y="694.40" width="8.7" height="2.19" fill="#cb4049"/>
<rect x="221.3" y="696.40" width="8.7" height="2.19" fill="#be3852"/>
<rect x="221.3" y="698.39" width="8.7" height="2.19" fill="#b23259"/>
<rect x="221.3" y="700.38" width="8.7" height="2.19" fill="#a62c5f"/>
<rect x="221.3" y="702.38" width="8.7" height="2.19" fill="#982765"/>
<rect x="221.3" y="704.37" width="8.7" height="2.19" fill="#8b2269"/>
<rect x="221.3" y="706.36" width="8.7" height="2.19" fill="#7d1d6c"/>
<rect x="221.3" y="708.36" width="8.7" height="2.19" fill="#70196e"/>
<rect x="221.3" y="710.35" width="8.7" height="2.19" fill="#62146e"/>
<rect x="221.3" y="712.35" width="8.7" height="2.19" fill="#530e6d"/>
<rect x="221.3" y="714.34" width="8.7" height="2.19" fill="#430a68"/>
<rect x="221.3" y="716.33" width="8.7" height="2.19" fill="#34095f"/>
<rect x="221.3" y="718.33" width="8.7" height="2.19" fill="#220b4c"/>
<rect x="221.3" y="720.32" width="8.7" height="2.19" fill="#130a34"/>
<rect x="221.3" y="722.31" width="8.7" height="2.19" fill="#06041b"/>
<rect x="221.3" y="724.31" width="8.7" height="2.19" fill="#000003"/>
</g>
<text x="232.5" y="668.6" font-size="8">3</text>
<text x="232.5" y="688.3" font-size="8">2</text>
<text x="232.5" y="708" font-size="8">1</text>
<text x="232.5" y="727.8" font-size="8">0</text>
<defs>
<radialGradient id="gp" cx="0.5" cy="0.72" r="0.7"><stop offset="0" stop-color="#fae0dc"/><stop offset="0.45" stop-color="#f5c1bb"/><stop offset="1" stop-color="#eea4a0"/></radialGradient>
<radialGradient id="gb" cx="0.5" cy="0.75" r="0.75"><stop offset="0" stop-color="#d3e4f3"/><stop offset="0.5" stop-color="#a9c9e6"/><stop offset="1" stop-color="#86b1d9"/></radialGradient>
<radialGradient id="gm" cx="0.5" cy="0.5" r="0.5"><stop offset="0" stop-color="#f6c9f4"/><stop offset="0.5" stop-color="#e98ce5"/><stop offset="0.85" stop-color="#d856d4"/><stop offset="1" stop-color="#cf44cc"/></radialGradient>
<radialGradient id="gw" cx="0.5" cy="0.5" r="0.5"><stop offset="0" stop-color="#fff" stop-opacity="0.85"/><stop offset="0.6" stop-color="#fbe6fa" stop-opacity="0.6"/><stop offset="1" stop-color="#f6c8f4" stop-opacity="0"/></radialGradient>
</defs>
<text x="-0.5" y="8.6" font-size="16.3" font-weight="bold">a</text>
<text x="142.6" y="6.6" font-size="8" font-style="italic" text-anchor="middle" style="fill:#36469e;stroke:#36469e">Implement mtSSU ODE model</text>
<text x="142.4" y="16" font-size="8" font-style="italic" text-anchor="middle" style="fill:#36469e;stroke:#36469e">(mass action kinetics)</text>
<text x="374.5" y="6.4" font-size="8" font-style="italic" text-anchor="middle" style="fill:#36469e;stroke:#36469e">Fit model to data and learn model</text>
<text x="374.5" y="16.6" font-size="8" font-style="italic" text-anchor="middle" style="fill:#36469e;stroke:#36469e">kinetic rates (Bayesian parameter</text>
<text x="372.7" y="26.4" font-size="8" font-style="italic" text-anchor="middle" style="fill:#36469e;stroke:#36469e">inference)</text>
<text x="584.7" y="6.4" font-size="8" font-style="italic" text-anchor="middle" style="fill:#36469e;stroke:#36469e">Stability and sensitivity analysis</text>
<circle cx="61.4" cy="54.2" r="8.4" fill="url(#gp)"/>
<circle cx="89.4" cy="66.1" r="8.4" fill="url(#gp)"/>
<circle cx="61.3" cy="118.8" r="8.4" fill="url(#gb)"/>
<circle cx="89.4" cy="108" r="8.4" fill="url(#gb)"/>
<circle cx="138.6" cy="70.5" r="8.5" fill="url(#gp)"/>
<circle cx="149.9" cy="70.5" r="8.5" fill="url(#gp)"/>
<circle cx="138.6" cy="103.1" r="8.5" fill="url(#gb)"/>
<circle cx="149.9" cy="103.1" r="8.5" fill="url(#gb)"/>
<circle cx="204.7" cy="95.5" r="6.6" fill="url(#gm)"/>
<circle cx="214.2" cy="95.5" r="6.4" fill="url(#gm)"/>
<circle cx="219.4" cy="92.6" r="6.9" fill="url(#gm)"/>
<circle cx="214.9" cy="85.1" r="6.7" fill="url(#gm)"/>
<circle cx="200.8" cy="85.7" r="7" fill="url(#gm)"/>
<ellipse cx="209" cy="90.5" rx="11.5" ry="8.5" fill="url(#gw)"/>
<path d="M32 54L48.3 54" stroke="#a3263c" stroke-width="0.75" stroke-opacity="0.85" fill="none"/><path d="M51.3 54L46.7 56.2L48 54L46.7 51.8Z" fill="#a3263c"/>
<path d="M32 66L75.6 66" stroke="#a3263c" stroke-width="0.75" stroke-opacity="0.85" fill="none"/><path d="M78.6 66L74 68.2L75.3 66L74 63.8Z" fill="#a3263c"/>
<path d="M61.4 45L61.4 29.6" stroke="#a3263c" stroke-width="0.75" stroke-opacity="0.85" fill="none"/><path d="M61.4 26.6L63.6 31.2L61.4 29.9L59.2 31.2Z" fill="#a3263c"/>
<path d="M89.4 57L89.4 41.6" stroke="#a3263c" stroke-width="0.75" stroke-opacity="0.85" fill="none"/><path d="M89.4 38.6L91.6 43.2L89.4 41.9L87.2 43.2Z" fill="#a3263c"/>
<path d="M100 64.4L124.4 64.4" stroke="#a3263c" stroke-width="0.75" stroke-opacity="0.85" fill="none"/><path d="M127.4 64.4L122.8 66.6L124.1 64.4L122.8 62.2Z" fill="#a3263c"/>
<path d="M127.4 68.4L103 68.4" stroke="#a3263c" stroke-width="0.75" stroke-opacity="0.85" fill="none"/><path d="M100 68.4L104.6 66.2L103.3 68.4L104.6 70.6Z" fill="#a3263c"/>
<path d="M144.4 61L144.4 46.6" stroke="#a3263c" stroke-width="0.75" stroke-opacity="0.85" fill="none"/><path d="M144.4 43.6L146.6 48.2L144.4 46.9L142.2 48.2Z" fill="#a3263c"/>
<path d="M32 107.6L75.6 107.6" stroke="#3f62b0" stroke-width="0.75" stroke-opacity="0.85" fill="none"/><path d="M78.6 107.6L74 109.8L75.3 107.6L74 105.4Z" fill="#3f62b0"/>
<path d="M32 119.6L48.3 119.6" stroke="#3f62b0" stroke-width="0.75" stroke-opacity="0.85" fill="none"/><path d="M51.3 119.6L46.7 121.8L48 119.6L46.7 117.4Z" fill="#3f62b0"/>
<path d="M61.4 128L61.4 144.4" stroke="#3f62b0" stroke-width="0.75" stroke-opacity="0.85" fill="none"/><path d="M61.4 147.4L59.2 142.8L61.4 144.1L63.6 142.8Z" fill="#3f62b0"/>
<path d="M89.4 117L89.4 133.4" stroke="#3f62b0" stroke-width="0.75" stroke-opacity="0.85" fill="none"/><path d="M89.4 136.4L87.2 131.8L89.4 133.1L91.6 131.8Z" fill="#3f62b0"/>
<path d="M100 105.4L124.4 105.4" stroke="#3f62b0" stroke-width="0.75" stroke-opacity="0.85" fill="none"/><path d="M127.4 105.4L122.8 107.6L124.1 105.4L122.8 103.2Z" fill="#3f62b0"/>
<path d="M127.4 109.4L103 109.4" stroke="#3f62b0" stroke-width="0.75" stroke-opacity="0.85" fill="none"/><path d="M100 109.4L104.6 107.2L103.3 109.4L104.6 111.6Z" fill="#3f62b0"/>
<path d="M144.4 112L144.4 128.4" stroke="#3f62b0" stroke-width="0.75" stroke-opacity="0.85" fill="none"/><path d="M144.4 131.4L142.2 126.8L144.4 128.1L146.6 126.8Z" fill="#3f62b0"/>
<path d="M163.6 88L187.6 88" stroke="#7d45a8" stroke-width="0.75" stroke-opacity="0.85" fill="none"/><path d="M190.6 88L186 90.2L187.3 88L186 85.8Z" fill="#7d45a8"/>
<path d="M190.6 91.8L166.6 91.8" stroke="#7d45a8" stroke-width="0.75" stroke-opacity="0.85" fill="none"/><path d="M163.6 91.8L168.2 89.6L166.9 91.8L168.2 94Z" fill="#7d45a8"/>
<path d="M209.4 106L209.4 122.4" stroke="#7d45a8" stroke-width="0.75" stroke-opacity="0.85" fill="none"/><path d="M209.4 125.4L207.2 120.8L209.4 122.1L211.6 120.8Z" fill="#7d45a8"/>
<path d="M231.5 88L242.8 88" stroke="#7d45a8" stroke-width="0.75" stroke-opacity="0.85" fill="none"/><path d="M245.8 88L241.2 90.2L242.5 88L241.2 85.8Z" fill="#7d45a8"/>
<path d="M245.8 91.8L234.5 91.8" stroke="#7d45a8" stroke-width="0.75" stroke-opacity="0.85" fill="none"/><path d="M231.5 91.8L236.1 89.6L234.8 91.8L236.1 94Z" fill="#7d45a8"/>
<text x="26.8" y="50.3" font-size="7.6" text-anchor="start">sup<tspan dy="1.8" font-size="4.3">P1</tspan></text>
<text x="26.8" y="71.8" font-size="7.6" text-anchor="start">sup<tspan dy="1.8" font-size="4.3">P2</tspan></text>
<text x="26.8" y="103.4" font-size="7.6" text-anchor="start">sup<tspan dy="1.8" font-size="4.3">P4</tspan></text>
<text x="26.8" y="124.6" font-size="7.6" text-anchor="start">sup<tspan dy="1.8" font-size="4.3">P3</tspan></text>
<text x="62.8" y="37.4" font-size="7.6" text-anchor="start">k<tspan dy="1.8" font-size="4.3">1</tspan></text>
<text x="90.8" y="50" font-size="7.6" text-anchor="start">k<tspan dy="1.8" font-size="4.3">2</tspan></text>
<text x="62.8" y="139.6" font-size="7.6" text-anchor="start">k<tspan dy="1.8" font-size="4.3">3</tspan></text>
<text x="90.8" y="128.4" font-size="7.6" text-anchor="start">k<tspan dy="1.8" font-size="4.3">4</tspan></text>
<text x="145.6" y="55.2" font-size="7.6" text-anchor="start">k<tspan dy="1.8" font-size="4.3">C1</tspan></text>
<text x="145.6" y="124.2" font-size="7.6" text-anchor="start">k<tspan dy="1.8" font-size="4.3">C2</tspan></text>
<text x="210.6" y="118.2" font-size="7.6" text-anchor="start">k<tspan dy="1.8" font-size="4.3">C3</tspan></text>
<text x="105.6" y="61.6" font-size="7.6" text-anchor="start">on<tspan dy="1.8" font-size="4.3">C1</tspan></text>
<text x="105.6" y="78" font-size="7.6" text-anchor="start">off<tspan dy="1.8" font-size="4.3">C1</tspan></text>
<text x="105.6" y="101.6" font-size="7.6" text-anchor="start">on<tspan dy="1.8" font-size="4.3">C2</tspan></text>
<text x="105.6" y="118.4" font-size="7.6" text-anchor="start">off<tspan dy="1.8" font-size="4.3">C2</tspan></text>
<text x="169" y="84.4" font-size="7.6" text-anchor="start">on<tspan dy="1.8" font-size="4.3">C3</tspan></text>
<text x="169" y="100.8" font-size="7.6" text-anchor="start">off<tspan dy="1.8" font-size="4.3">C3</tspan></text>
<text x="74.4" y="61.2" font-size="7" text-anchor="middle" style="stroke-width:.45px">+</text>
<text x="74.4" y="116.8" font-size="7" text-anchor="middle" style="stroke-width:.45px">+</text>
<text x="144.4" y="88.8" font-size="7" text-anchor="middle" style="stroke-width:.45px">+</text>
<text x="57.6" y="55.9" font-size="8.3" text-anchor="start">P<tspan dy="2.6" font-size="4.2">1</tspan></text>
<text x="85.6" y="67.8" font-size="8.3" text-anchor="start">P<tspan dy="2.6" font-size="4.2">2</tspan></text>
<text x="57.5" y="120.5" font-size="8.3" text-anchor="start">P<tspan dy="2.6" font-size="4.2">3</tspan></text>
<text x="85.6" y="109.7" font-size="8.3" text-anchor="start">P<tspan dy="2.6" font-size="4.2">4</tspan></text>
<text x="140.4" y="72.4" font-size="8.3" text-anchor="start">C<tspan dy="2.6" font-size="4.2">1</tspan></text>
<text x="140.2" y="105.1" font-size="8.3" text-anchor="start">C<tspan dy="2.6" font-size="4.2">2</tspan></text>
<text x="206.7" y="91.2" font-size="8.3" text-anchor="start">C<tspan dy="2.6" font-size="4.2">3</tspan></text>
<text x="251" y="91.6" font-size="8">...</text>
<text x="173" y="28.8" font-size="8" text-anchor="start">on<tspan dy="1.8" font-size="4.5">i</tspan></text>
<text x="195" y="28.8" font-size="8">binding rate</text>
<text x="173" y="40.8" font-size="8" text-anchor="start">off<tspan dy="1.8" font-size="4.5">i</tspan></text>
<text x="195" y="40.8" font-size="8">unbinding rate</text>
<text x="173" y="54.4" font-size="8" text-anchor="start">k<tspan dy="1.8" font-size="4.5">i</tspan></text>
<text x="195" y="54.4" font-size="8">turnover rate</text>
<text x="173" y="66.8" font-size="8" text-anchor="start">sup<tspan dy="1.8" font-size="4.5">i</tspan></text>
<text x="195" y="66.8" font-size="8">supply rate</text>
<path d="M269.4 70H288.4L285.4 65L299.2 72L285.4 79.4L288.4 74H269.4Z" fill="#858585"/>
<path d="M449.4 70H468.4L465.4 65L479.2 72L465.4 79.4L468.4 74H449.4Z" fill="#858585"/>
<text x="336.4" y="123.9" font-size="8" text-anchor="end">0.0</text>
<text x="336.4" y="97.7" font-size="8" text-anchor="end">0.4</text>
<text x="336.4" y="71.5" font-size="8" text-anchor="end">0.8</text>
<text x="336.4" y="45.3" font-size="8" text-anchor="end">1.2</text>
<text x="344" y="136" font-size="8" text-anchor="middle">0</text>
<text x="371.5" y="136" font-size="8" text-anchor="middle">4</text>
<text x="399" y="136" font-size="8" text-anchor="middle">8</text>
<text x="426.4" y="136" font-size="8" text-anchor="middle">12</text>
<path d="M341.4 42.4V121M338.0 121H341.4M338.0 94.8H341.4M338.0 68.6H341.4M338.0 42.4H341.4M343.6 124.5H426.8M344 124.5V127.8M371.5 124.5V127.8M399 124.5V127.8M426.4 124.5V127.8" stroke="#000" stroke-width="0.8" fill="none"/>
<text transform="translate(321.9 81.3) rotate(-90)" font-size="8" text-anchor="middle">abundance [a.u.]</text>
<text x="385.4" y="144.2" font-size="8" text-anchor="middle">time (h)</text>
<text x="373" y="45.2" font-size="8">mtSSU</text>
<text x="409.6" y="63.8" font-size="8">heavy</text>
<text x="409.6" y="122.4" font-size="8">medium</text>
<path d="M342.6 65.3h3.4M344.3 63.6v3.4M342.5 70.4h3.4M344.2 68.7v3.4M342.2 67.1h3.4M343.9 65.4v3.4M342.3 56.5h3.4M344 54.8v3.4M342.4 66h3.4M344.1 64.3v3.4M342.3 60.2h3.4M344 58.5v3.4M342.1 62.9h3.4M343.8 61.2v3.4M342.2 67.6h3.4M343.9 65.9v3.4M342 72.3h3.4M343.7 70.6v3.4M342.3 73.8h3.4M344 72.1v3.4M342.2 66.6h3.4M343.9 64.9v3.4M342 65.4h3.4M343.7 63.7v3.4M342.3 66.2h3.4M344 64.5v3.4M342.1 62.1h3.4M343.8 60.4v3.4M341.9 67.7h3.4M343.6 66v3.4M341.9 68.3h3.4M343.6 66.6v3.4M342.5 72.8h3.4M344.2 71.1v3.4M342.5 76.6h3.4M344.2 74.9v3.4M342.2 64.2h3.4M343.9 62.5v3.4M342.4 63.5h3.4M344.1 61.8v3.4M342.3 60.6h3.4M344 58.9v3.4M342.2 68.7h3.4M343.9 67v3.4M352.6 74.4h3.4M354.3 72.7v3.4M352.8 73.4h3.4M354.5 71.7v3.4M352.4 79.1h3.4M354.1 77.4v3.4M352.2 74.2h3.4M353.9 72.5v3.4M352.1 59.3h3.4M353.8 57.6v3.4M352.5 70.7h3.4M354.2 69v3.4M352.2 60.6h3.4M353.9 58.9v3.4M352.5 63.6h3.4M354.2 61.9v3.4M352.5 70.1h3.4M354.2 68.4v3.4M352.4 65.9h3.4M354.1 64.2v3.4M352.7 69.7h3.4M354.4 68v3.4M352.1 59.6h3.4M353.8 57.9v3.4M352.8 61.3h3.4M354.5 59.6v3.4M352.7 71.8h3.4M354.4 70.1v3.4M352.9 71.7h3.4M354.6 70v3.4M352.6 68.2h3.4M354.3 66.5v3.4M352.6 70.5h3.4M354.3 68.8v3.4M352.4 70.2h3.4M354.1 68.5v3.4M352.2 58.5h3.4M353.9 56.8v3.4M352.6 88.1h3.4M354.3 86.4v3.4M352.7 70h3.4M354.4 68.3v3.4M352.6 70.3h3.4M354.3 68.6v3.4M363.1 65.9h3.4M364.8 64.2v3.4M362.8 70h3.4M364.5 68.3v3.4M363 57.4h3.4M364.7 55.7v3.4M363.4 72.8h3.4M365.1 71.1v3.4M362.8 63.6h3.4M364.5 61.9v3.4M363 73.8h3.4M364.7 72.1v3.4M362.7 72h3.4M364.4 70.3v3.4M362.8 74.4h3.4M364.5 72.7v3.4M362.8 61.8h3.4M364.5 60.1v3.4M363 75.2h3.4M364.7 73.5v3.4M363.1 67.3h3.4M364.8 65.6v3.4M362.9 61.3h3.4M364.6 59.6v3.4M362.9 68.4h3.4M364.6 66.7v3.4M363 73.6h3.4M364.7 71.9v3.4M362.9 60.4h3.4M364.6 58.7v3.4M362.9 68.9h3.4M364.6 67.2v3.4M362.7 71.7h3.4M364.4 70v3.4M362.7 69.7h3.4M364.4 68v3.4M362.6 69.9h3.4M364.3 68.2v3.4M362.9 65.8h3.4M364.6 64.1v3.4M362.5 73.7h3.4M364.2 72v3.4M363.1 67.7h3.4M364.8 66v3.4M383.4 76h3.4M385.1 74.3v3.4M383.7 75h3.4M385.4 73.3v3.4M383.7 77h3.4M385.4 75.3v3.4M383.7 73.6h3.4M385.4 71.9v3.4M383.5 71.7h3.4M385.2 70v3.4M383.4 80.1h3.4M385.1 78.4v3.4M383.7 73.3h3.4M385.4 71.6v3.4M383.4 70.5h3.4M385.1 68.8v3.4M383.7 69.6h3.4M385.4 67.9v3.4M383.4 72.7h3.4M385.1 71v3.4M383.7 74.1h3.4M385.4 72.4v3.4M383.3 68.9h3.4M385 67.2v3.4M383.4 69.8h3.4M385.1 68.1v3.4M383.8 76.1h3.4M385.5 74.4v3.4M383.4 67.3h3.4M385.1 65.6v3.4M383.6 71.4h3.4M385.3 69.7v3.4M383.5 75.4h3.4M385.2 73.7v3.4M383.2 68.2h3.4M384.9 66.5v3.4M383.7 70.1h3.4M385.4 68.4v3.4M383.3 69.1h3.4M385 67.4v3.4M383.3 70.1h3.4M385 68.4v3.4M383.6 68.7h3.4M385.3 67v3.4M424.6 79.6h3.4M426.3 77.9v3.4M424.9 83.9h3.4M426.6 82.2v3.4M424.8 85.5h3.4M426.5 83.8v3.4M424.7 78.1h3.4M426.4 76.4v3.4M424.8 68.2h3.4M426.5 66.5v3.4M424.3 69.5h3.4M426 67.8v3.4M424.9 92.5h3.4M426.6 90.8v3.4M424.7 77.4h3.4M426.4 75.7v3.4M424.4 81.1h3.4M426.1 79.4v3.4M424.5 84.1h3.4M426.2 82.4v3.4M424.9 81.9h3.4M426.6 80.2v3.4M424.8 80.5h3.4M426.5 78.8v3.4M424.7 84.4h3.4M426.4 82.7v3.4M424.7 80.2h3.4M426.4 78.5v3.4M424.6 74.2h3.4M426.3 72.5v3.4M424.5 70.9h3.4M426.2 69.2v3.4M424.6 75.2h3.4M426.3 73.5v3.4M424.8 72.1h3.4M426.5 70.4v3.4M424.9 78.7h3.4M426.6 77v3.4M424.5 84.1h3.4M426.2 82.4v3.4M425 91.4h3.4M426.7 89.7v3.4M424.6 84.4h3.4M426.3 82.7v3.4" stroke="#c0504d" stroke-width="0.6" stroke-opacity="0.38" fill="none"/>
<path d="M342.7 120.4h3.4M344.4 118.7v3.4M342.3 121h3.4M344 119.3v3.4M342.4 120.5h3.4M344.1 118.8v3.4M342.2 121.1h3.4M343.9 119.4v3.4M342.6 120h3.4M344.3 118.3v3.4M342.1 119.7h3.4M343.8 118v3.4M342.3 120.3h3.4M344 118.6v3.4M342 120.9h3.4M343.7 119.2v3.4M342.3 120h3.4M344 118.3v3.4M342.5 120.4h3.4M344.2 118.7v3.4M342.4 120.7h3.4M344.1 119v3.4M342.3 120.3h3.4M344 118.6v3.4M342.3 120.2h3.4M344 118.5v3.4M342.4 120.2h3.4M344.1 118.5v3.4M342.2 119.6h3.4M343.9 117.9v3.4M342.4 119.9h3.4M344.1 118.2v3.4M342.5 120.5h3.4M344.2 118.8v3.4M342.5 120.7h3.4M344.2 119v3.4M342.2 120.7h3.4M343.9 119v3.4M342.5 120.2h3.4M344.2 118.5v3.4M342.5 120h3.4M344.2 118.3v3.4M342.1 120.4h3.4M343.8 118.7v3.4M352.7 116.1h3.4M354.4 114.4v3.4M352.8 119.6h3.4M354.5 117.9v3.4M352.4 116.9h3.4M354.1 115.2v3.4M352.3 116.4h3.4M354 114.7v3.4M352.7 119.4h3.4M354.4 117.7v3.4M352.6 121h3.4M354.3 119.3v3.4M352.8 120.5h3.4M354.5 118.8v3.4M352.6 119.1h3.4M354.3 117.4v3.4M352.5 120.8h3.4M354.2 119.1v3.4M352.7 115.2h3.4M354.4 113.5v3.4M352.8 121.3h3.4M354.5 119.6v3.4M352.5 115.4h3.4M354.2 113.7v3.4M352.4 114.1h3.4M354.1 112.4v3.4M352.8 117.6h3.4M354.5 115.9v3.4M352.9 114.4h3.4M354.6 112.7v3.4M352.2 119.9h3.4M353.9 118.2v3.4M352.3 116.5h3.4M354 114.8v3.4M352.3 117.7h3.4M354 116v3.4M352.8 115h3.4M354.5 113.3v3.4M352.6 116.1h3.4M354.3 114.4v3.4M352.5 117.3h3.4M354.2 115.6v3.4M352.7 116.5h3.4M354.4 114.8v3.4M362.8 118.4h3.4M364.5 116.7v3.4M363 117h3.4M364.7 115.3v3.4M363.2 117.5h3.4M364.9 115.8v3.4M362.6 119.7h3.4M364.3 118v3.4M362.8 117.6h3.4M364.5 115.9v3.4M362.9 118.8h3.4M364.6 117.1v3.4M362.7 118.7h3.4M364.4 117v3.4M362.8 118.9h3.4M364.5 117.2v3.4M362.4 118.9h3.4M364.1 117.2v3.4M363 118h3.4M364.7 116.3v3.4M362.8 120.5h3.4M364.5 118.8v3.4M363 118.8h3.4M364.7 117.1v3.4M363.2 118.8h3.4M364.9 117.1v3.4M362.7 118.8h3.4M364.4 117.1v3.4M363.1 119.5h3.4M364.8 117.8v3.4M363.1 119.4h3.4M364.8 117.7v3.4M363 117.8h3.4M364.7 116.1v3.4M362.9 117.8h3.4M364.6 116.1v3.4M362.8 118.8h3.4M364.5 117.1v3.4M362.6 119.4h3.4M364.3 117.7v3.4M362.7 119.4h3.4M364.4 117.7v3.4M362.9 120.2h3.4M364.6 118.5v3.4M383.5 113.1h3.4M385.2 111.4v3.4M383.7 110.4h3.4M385.4 108.7v3.4M383.4 111.4h3.4M385.1 109.7v3.4M383.6 118.8h3.4M385.3 117.1v3.4M383.7 113.5h3.4M385.4 111.8v3.4M383.8 113.2h3.4M385.5 111.5v3.4M383.7 115.3h3.4M385.4 113.6v3.4M383.1 117.1h3.4M384.8 115.4v3.4M383.8 115.8h3.4M385.5 114.1v3.4M383.7 119.4h3.4M385.4 117.7v3.4M383.4 116.5h3.4M385.1 114.8v3.4M383.6 114.3h3.4M385.3 112.6v3.4M383.5 117.3h3.4M385.2 115.6v3.4M383.7 113.1h3.4M385.4 111.4v3.4M383.8 116.7h3.4M385.5 115v3.4M384 108.8h3.4M385.7 107.1v3.4M383.6 118.4h3.4M385.3 116.7v3.4M383.6 119.9h3.4M385.3 118.2v3.4M383.3 112.8h3.4M385 111.1v3.4M383.6 119.1h3.4M385.3 117.4v3.4M383.4 112.6h3.4M385.1 110.9v3.4M383 115.2h3.4M384.7 113.5v3.4M424.8 108.7h3.4M426.5 107v3.4M425.1 105h3.4M426.8 103.3v3.4M424.3 110.5h3.4M426 108.8v3.4M424.6 103.7h3.4M426.3 102v3.4M424.9 104.5h3.4M426.6 102.8v3.4M425 103.1h3.4M426.7 101.4v3.4M424.4 99.9h3.4M426.1 98.2v3.4M425.1 105.9h3.4M426.8 104.2v3.4M424.9 107.4h3.4M426.6 105.7v3.4M424.7 105.9h3.4M426.4 104.2v3.4M424.9 98.9h3.4M426.6 97.2v3.4M424.9 106.7h3.4M426.6 105v3.4M424.6 111.3h3.4M426.3 109.6v3.4M424.7 101.8h3.4M426.4 100.1v3.4M424.8 110.2h3.4M426.5 108.5v3.4M425 104.3h3.4M426.7 102.6v3.4M424.7 101.6h3.4M426.4 99.9v3.4M424.7 107.7h3.4M426.4 106v3.4M425 106.6h3.4M426.7 104.9v3.4M425 98.9h3.4M426.7 97.2v3.4M424.7 104.1h3.4M426.4 102.4v3.4M424.7 101.8h3.4M426.4 100.1v3.4" stroke="#8db255" stroke-width="0.6" stroke-opacity="0.38" fill="none"/>
<ellipse cx="344" cy="65.8" rx="1.5" ry="2.6" fill="#8b1a1e" fill-opacity="0.9"/>
<ellipse cx="354.3" cy="69.3" rx="1.5" ry="2.6" fill="#8b1a1e" fill-opacity="0.9"/>
<ellipse cx="364.6" cy="67.6" rx="1.5" ry="2.6" fill="#8b1a1e" fill-opacity="0.9"/>
<ellipse cx="385.2" cy="71.9" rx="1.5" ry="2.6" fill="#8b1a1e" fill-opacity="0.9"/>
<ellipse cx="426.4" cy="80.8" rx="1.5" ry="2.6" fill="#8b1a1e" fill-opacity="0.9"/>
<ellipse cx="344" cy="120.3" rx="1.5" ry="1.3" fill="#6b8e23" fill-opacity="0.9"/>
<ellipse cx="354.3" cy="117.4" rx="1.5" ry="2" fill="#6b8e23" fill-opacity="0.9"/>
<ellipse cx="364.6" cy="118.8" rx="1.5" ry="1.8" fill="#6b8e23" fill-opacity="0.9"/>
<ellipse cx="385.2" cy="114.5" rx="1.5" ry="2.6" fill="#6b8e23" fill-opacity="0.9"/>
<ellipse cx="426.4" cy="105.7" rx="1.5" ry="2.8" fill="#6b8e23" fill-opacity="0.9"/>
<path d="M344 67.9L426.4 77.1" stroke="#7a1418" stroke-width="0.8" stroke-opacity="1"/>
<path d="M344 66L426.4 74" stroke="#c0504d" stroke-width="0.5" stroke-opacity="0.8"/>
<path d="M344 69.9L426.4 79.7" stroke="#c0504d" stroke-width="0.5" stroke-opacity="0.8"/>
<path d="M344 121L426.4 112" stroke="#5d8a2a" stroke-width="0.8" stroke-opacity="1"/>
<path d="M344 121L426.4 110.2" stroke="#8db255" stroke-width="0.5" stroke-opacity="0.8"/>
<path d="M344 121L426.4 113.8" stroke="#8db255" stroke-width="0.5" stroke-opacity="0.8"/>
<path d="M516.4 40.7V126.5H610.7" stroke="#000" stroke-width="0.8" fill="none"/>
<path d="M564 40.5V126.4M564 83.2H610.7" stroke="#d8344f" stroke-width="0.65" stroke-dasharray="3.4 2 0.9 2" fill="none"/>
<path d="M515.7 91.3L517.7 91.3L519.7 91.3L521.6 91.3L523.6 91.3L525.6 91.3L527.6 91.3L529.6 91.3L531.5 91.3L533.5 91.3L535.5 91.2L537.5 91.2L539.5 91.2L541.4 91.1L543.4 91L545.4 90.9L547.4 90.7L549.3 90.5L551.3 90.1L553.3 89.5L555.3 88.7L557.3 87.6L559.2 86L561.2 83.9L563.2 81.1L565.2 77.6L567.2 73.6L569.1 69.2L571.1 64.8L573.1 60.7L575.1 57.2L577.1 54.3L579 52L581 50.3L583 49.1L585 48.3L587 47.7L588.9 47.3L590.9 47L592.9 46.8L594.9 46.7L596.8 46.6L598.8 46.5L600.8 46.5L602.8 46.5L604.8 46.4L606.7 46.4L608.7 46.4L610.7 46.4" stroke="#e5782d" stroke-width="0.9" fill="none"/>
<path d="M515.7 75L517.7 75L519.7 75L521.6 75L523.6 75L525.6 75L527.6 75L529.6 75L531.5 75L533.5 75L535.5 75L537.5 75L539.5 75.1L541.4 75.1L543.4 75.1L545.4 75.2L547.4 75.3L549.3 75.4L551.3 75.6L553.3 75.9L555.3 76.3L557.3 76.9L559.2 77.8L561.2 79.1L563.2 80.8L565.2 83.2L567.2 86.3L569.1 90.2L571.1 94.7L573.1 99.6L575.1 104.6L577.1 109.2L579 113.3L581 116.6L583 119.2L585 121.1L587 122.5L588.9 123.5L590.9 124.2L592.9 124.7L594.9 125L596.8 125.2L598.8 125.4L600.8 125.5L602.8 125.6L604.8 125.6L606.7 125.6L608.7 125.7L610.7 125.7" stroke="#4a5fb4" stroke-width="0.9" fill="none"/>
<path d="M515.7 83.2L517.7 83.2L519.7 83.2L521.6 83.2L523.6 83.2L525.6 83.2L527.6 83.2L529.6 83.2L531.5 83.2L533.5 83.2L535.5 83.2L537.5 83.2L539.5 83.2L541.4 83.2L543.4 83.2L545.4 83.3L547.4 83.3L549.3 83.3L551.3 83.3L553.3 83.3L555.3 83.4L557.3 83.4L559.2 83.5L561.2 83.5L563.2 83.6L565.2 83.7L567.2 83.8L569.1 83.9L571.1 84.1L573.1 84.2L575.1 84.4L577.1 84.6L579 84.8L581 85L583 85.2L585 85.4L587 85.6L588.9 85.7L590.9 85.9L592.9 86L594.9 86.1L596.8 86.2L598.8 86.3L600.8 86.3L602.8 86.4L604.8 86.4L606.7 86.5L608.7 86.5L610.7 86.5" stroke="#4a5fb4" stroke-width="0.9" fill="none"/>
<path d="M515.7 83.3L517.7 83.3L519.7 83.3L521.6 83.3L523.6 83.3L525.6 83.3L527.6 83.3L529.6 83.3L531.5 83.3L533.5 83.3L535.5 83.3L537.5 83.3L539.5 83.3L541.4 83.3L543.4 83.3L545.4 83.2L547.4 83.2L549.3 83.2L551.3 83.2L553.3 83.2L555.3 83.1L557.3 83.1L559.2 83L561.2 83L563.2 82.9L565.2 82.8L567.2 82.7L569.1 82.6L571.1 82.5L573.1 82.3L575.1 82.1L577.1 81.9L579 81.7L581 81.5L583 81.4L585 81.2L587 81L588.9 80.8L590.9 80.7L592.9 80.6L594.9 80.5L596.8 80.4L598.8 80.3L600.8 80.3L602.8 80.2L604.8 80.2L606.7 80.1L608.7 80.1L610.7 80.1" stroke="#e5782d" stroke-width="0.9" fill="none"/>
<text transform="translate(500.8 83.7) rotate(-90)" font-size="8" text-anchor="middle">fold change</text>
<text transform="translate(510.1 83.7) rotate(-90)" font-size="8" text-anchor="middle">mtSSU abundance</text>
<text x="514.3" y="86.4" font-size="8" text-anchor="end">1</text>
<text x="564" y="135.2" font-size="8" text-anchor="middle">1</text>
<text x="564.2" y="142.8" font-size="8" text-anchor="middle">fold change kinetic rate</text>
<text x="637.8" y="41.1" font-size="8" text-anchor="middle">sensitive, enhancing</text>
<text x="638.3" y="51.3" font-size="8" text-anchor="middle">kinetic rate</text>
<text x="638.3" y="80.2" font-size="8" text-anchor="middle">non-sensitive</text>
<text x="639" y="90.1" font-size="8" text-anchor="middle">kinetic rates</text>
<text x="635" y="119.9" font-size="8" text-anchor="middle">sensitive, inhibiting</text>
<text x="636" y="129.6" font-size="8" text-anchor="middle">kinetic rate</text>
</svg>
</body></html>
